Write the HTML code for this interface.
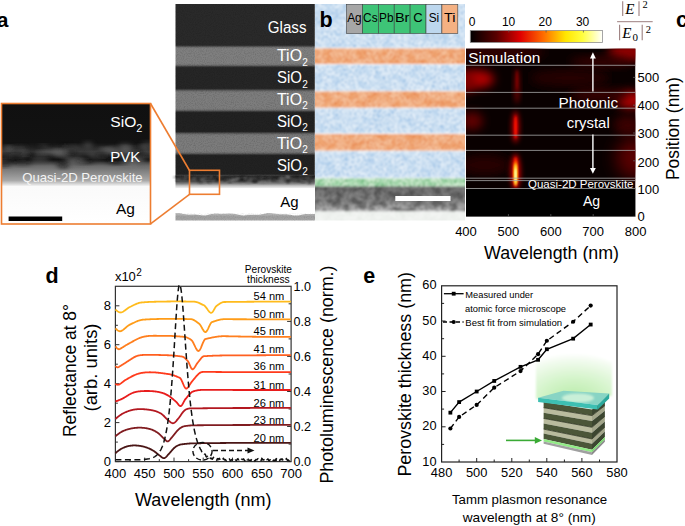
<!DOCTYPE html><html><head><meta charset="utf-8"><style>html,body{margin:0;padding:0;background:#fff;width:685px;height:526px;overflow:hidden}svg{display:block}text{font-family:"Liberation Sans",sans-serif}</style></head><body>
<svg width="685" height="526" viewBox="0 0 685 526">
<defs>
<filter id="nz" x="0" y="0" width="100%" height="100%"><feTurbulence type="fractalNoise" baseFrequency="0.9" numOctaves="2" seed="3" result="t"/><feColorMatrix in="t" type="matrix" values="0 0 0 0 0  0 0 0 0 0  0 0 0 0 0  0 0 0 -2.2 1.35" result="m"/><feComposite in="SourceGraphic" in2="m" operator="in"/></filter>
<filter id="nz2" x="0" y="0" width="100%" height="100%"><feTurbulence type="fractalNoise" baseFrequency="0.5" numOctaves="2" seed="9" result="t"/><feColorMatrix in="t" type="matrix" values="0 0 0 0 0  0 0 0 0 0  0 0 0 0 0  0 0 0 -3 1.9" result="m"/><feComposite in="SourceGraphic" in2="m" operator="in"/></filter>
<filter id="bl1" x="-50%" y="-50%" width="200%" height="200%"><feGaussianBlur stdDeviation="1"/></filter>
<filter id="bl2" x="-50%" y="-50%" width="200%" height="200%"><feGaussianBlur stdDeviation="2.5"/></filter>
<filter id="bl4" x="-50%" y="-50%" width="200%" height="200%"><feGaussianBlur stdDeviation="5"/></filter>
<filter id="bl8" x="-50%" y="-50%" width="200%" height="200%"><feGaussianBlur stdDeviation="8"/></filter>
<linearGradient id="cbar" x1="0" x2="1" y1="0" y2="0"><stop offset="0" stop-color="#000"/><stop offset="0.2" stop-color="#5a0000"/><stop offset="0.38" stop-color="#e00000"/><stop offset="0.55" stop-color="#ff6a00"/><stop offset="0.72" stop-color="#ffe600"/><stop offset="0.85" stop-color="#ffff40"/><stop offset="1" stop-color="#ffffff"/></linearGradient>
<linearGradient id="pnlA" x1="0" x2="0" y1="0" y2="1"><stop offset="0" stop-color="#101010"/><stop offset="0.33" stop-color="#121212"/><stop offset="0.4" stop-color="#3a3a3a"/><stop offset="0.44" stop-color="#202020"/><stop offset="0.47" stop-color="#1a1a1a"/><stop offset="0.52" stop-color="#6a6a6a"/><stop offset="0.56" stop-color="#808080"/><stop offset="0.64" stop-color="#a8a8a8"/><stop offset="0.67" stop-color="#d8d8d8"/><stop offset="0.69" stop-color="#fafafa"/><stop offset="1" stop-color="#ffffff"/></linearGradient>
<clipPath id="clipC"><rect x="466" y="48.5" width="169.5" height="168"/></clipPath>
<clipPath id="clipA"><rect x="1.5" y="103.5" width="149" height="120"/></clipPath>
<radialGradient id="glow" cx="0.5" cy="1" r="0.8"><stop offset="0" stop-color="#a8ec98"/><stop offset="0.5" stop-color="#c8f4bc"/><stop offset="1" stop-color="#ffffff" stop-opacity="0"/></radialGradient>
</defs>
<g clip-path="url(#clipA)">
<rect x="1" y="103" width="150" height="121" fill="url(#pnlA)"/>
<ellipse cx="48.6" cy="147.3" rx="8.6" ry="1.6" fill="#101010" opacity="0.5" filter="url(#bl2)"/>
<ellipse cx="14.1" cy="156.8" rx="10.4" ry="1.9" fill="#5a5a5a" opacity="0.5" filter="url(#bl2)"/>
<ellipse cx="65.0" cy="145.5" rx="4.6" ry="2.3" fill="#101010" opacity="0.5" filter="url(#bl2)"/>
<ellipse cx="18.6" cy="148.9" rx="8.4" ry="3.4" fill="#101010" opacity="0.5" filter="url(#bl2)"/>
<ellipse cx="87.8" cy="145.1" rx="5.5" ry="2.6" fill="#707070" opacity="0.5" filter="url(#bl2)"/>
<ellipse cx="43.4" cy="147.2" rx="4.8" ry="2.1" fill="#606060" opacity="0.5" filter="url(#bl2)"/>
<ellipse cx="27.1" cy="156.8" rx="8.5" ry="2.2" fill="#101010" opacity="0.5" filter="url(#bl2)"/>
<ellipse cx="106.8" cy="156.4" rx="8.3" ry="2.5" fill="#101010" opacity="0.5" filter="url(#bl2)"/>
<ellipse cx="64.1" cy="150.9" rx="8.1" ry="2.4" fill="#0a0a0a" opacity="0.5" filter="url(#bl2)"/>
<ellipse cx="37.3" cy="148.0" rx="9.5" ry="1.7" fill="#0a0a0a" opacity="0.5" filter="url(#bl2)"/>
<ellipse cx="78.8" cy="163.3" rx="9.1" ry="2.1" fill="#5a5a5a" opacity="0.5" filter="url(#bl2)"/>
<ellipse cx="17.7" cy="153.2" rx="9.3" ry="1.8" fill="#808080" opacity="0.5" filter="url(#bl2)"/>
<ellipse cx="63.3" cy="165.2" rx="4.5" ry="2.6" fill="#0a0a0a" opacity="0.5" filter="url(#bl2)"/>
<ellipse cx="51.0" cy="151.7" rx="7.5" ry="3.1" fill="#5a5a5a" opacity="0.5" filter="url(#bl2)"/>
<ellipse cx="126.0" cy="164.8" rx="7.3" ry="2.8" fill="#5a5a5a" opacity="0.5" filter="url(#bl2)"/>
<ellipse cx="109.7" cy="150.8" rx="8.0" ry="2.9" fill="#808080" opacity="0.5" filter="url(#bl2)"/>
<ellipse cx="42.7" cy="152.5" rx="8.7" ry="1.5" fill="#808080" opacity="0.5" filter="url(#bl2)"/>
<ellipse cx="53.3" cy="157.4" rx="7.5" ry="1.9" fill="#0a0a0a" opacity="0.5" filter="url(#bl2)"/>
<ellipse cx="19.4" cy="149.4" rx="6.7" ry="3.2" fill="#5a5a5a" opacity="0.5" filter="url(#bl2)"/>
<ellipse cx="25.0" cy="152.8" rx="5.9" ry="1.8" fill="#808080" opacity="0.5" filter="url(#bl2)"/>
<ellipse cx="129.6" cy="150.1" rx="6.9" ry="2.2" fill="#808080" opacity="0.5" filter="url(#bl2)"/>
<ellipse cx="143.7" cy="147.3" rx="5.2" ry="2.0" fill="#707070" opacity="0.5" filter="url(#bl2)"/>
<ellipse cx="1.8" cy="162.3" rx="5.3" ry="2.1" fill="#707070" opacity="0.5" filter="url(#bl2)"/>
<ellipse cx="62.8" cy="152.1" rx="8.0" ry="3.4" fill="#606060" opacity="0.5" filter="url(#bl2)"/>
<ellipse cx="128.9" cy="164.9" rx="8.6" ry="3.0" fill="#808080" opacity="0.5" filter="url(#bl2)"/>
<ellipse cx="134.9" cy="161.2" rx="10.1" ry="3.1" fill="#808080" opacity="0.5" filter="url(#bl2)"/>
<ellipse cx="59.7" cy="152.7" rx="7.4" ry="2.3" fill="#707070" opacity="0.5" filter="url(#bl2)"/>
<ellipse cx="10.1" cy="148.6" rx="5.1" ry="2.2" fill="#5a5a5a" opacity="0.5" filter="url(#bl2)"/>
<ellipse cx="15.4" cy="156.5" rx="7.8" ry="3.4" fill="#101010" opacity="0.5" filter="url(#bl2)"/>
<ellipse cx="3.8" cy="163.2" rx="8.3" ry="1.8" fill="#0a0a0a" opacity="0.5" filter="url(#bl2)"/>
<ellipse cx="143.3" cy="157.3" rx="7.3" ry="1.7" fill="#808080" opacity="0.5" filter="url(#bl2)"/>
<ellipse cx="149.0" cy="154.3" rx="7.4" ry="1.7" fill="#5a5a5a" opacity="0.5" filter="url(#bl2)"/>
<ellipse cx="112.5" cy="160.3" rx="7.4" ry="2.9" fill="#101010" opacity="0.5" filter="url(#bl2)"/>
<ellipse cx="3.5" cy="164.9" rx="7.7" ry="1.8" fill="#101010" opacity="0.5" filter="url(#bl2)"/>
<ellipse cx="137.1" cy="160.7" rx="6.1" ry="2.8" fill="#5a5a5a" opacity="0.5" filter="url(#bl2)"/>
<ellipse cx="104.4" cy="149.7" rx="6.6" ry="1.8" fill="#707070" opacity="0.5" filter="url(#bl2)"/>
<ellipse cx="79.9" cy="161.1" rx="6.3" ry="1.9" fill="#707070" opacity="0.5" filter="url(#bl2)"/>
<ellipse cx="120.9" cy="162.0" rx="9.2" ry="2.0" fill="#101010" opacity="0.5" filter="url(#bl2)"/>
<ellipse cx="73.9" cy="160.1" rx="10.9" ry="3.1" fill="#808080" opacity="0.5" filter="url(#bl2)"/>
<ellipse cx="38.9" cy="159.2" rx="10.7" ry="2.4" fill="#606060" opacity="0.5" filter="url(#bl2)"/>
<ellipse cx="148.2" cy="165.0" rx="6.6" ry="1.9" fill="#707070" opacity="0.5" filter="url(#bl2)"/>
<ellipse cx="70.5" cy="151.4" rx="7.4" ry="3.5" fill="#101010" opacity="0.5" filter="url(#bl2)"/>
<ellipse cx="126.1" cy="154.5" rx="8.6" ry="3.1" fill="#5a5a5a" opacity="0.5" filter="url(#bl2)"/>
<ellipse cx="125.2" cy="146.6" rx="6.7" ry="2.9" fill="#707070" opacity="0.5" filter="url(#bl2)"/>
<ellipse cx="71.7" cy="147.9" rx="9.5" ry="2.2" fill="#606060" opacity="0.5" filter="url(#bl2)"/>
<ellipse cx="59.4" cy="152.8" rx="10.6" ry="2.9" fill="#707070" opacity="0.5" filter="url(#bl2)"/>
<ellipse cx="149.0" cy="144.6" rx="8.1" ry="2.4" fill="#606060" opacity="0.5" filter="url(#bl2)"/>
<ellipse cx="21.9" cy="162.2" rx="10.9" ry="2.8" fill="#0a0a0a" opacity="0.5" filter="url(#bl2)"/>
<ellipse cx="23.4" cy="156.1" rx="4.1" ry="3.1" fill="#606060" opacity="0.5" filter="url(#bl2)"/>
<ellipse cx="97.5" cy="155.6" rx="10.5" ry="2.4" fill="#707070" opacity="0.5" filter="url(#bl2)"/>
<ellipse cx="123.9" cy="148.6" rx="5.8" ry="2.1" fill="#707070" opacity="0.5" filter="url(#bl2)"/>
<ellipse cx="114.6" cy="151.2" rx="7.8" ry="3.2" fill="#5a5a5a" opacity="0.5" filter="url(#bl2)"/>
<ellipse cx="136.5" cy="151.8" rx="7.2" ry="2.7" fill="#101010" opacity="0.5" filter="url(#bl2)"/>
<ellipse cx="63.1" cy="164.2" rx="7.5" ry="2.6" fill="#101010" opacity="0.5" filter="url(#bl2)"/>
<ellipse cx="76.6" cy="163.2" rx="9.4" ry="2.7" fill="#707070" opacity="0.5" filter="url(#bl2)"/>
<ellipse cx="25.9" cy="154.4" rx="9.1" ry="2.6" fill="#0a0a0a" opacity="0.5" filter="url(#bl2)"/>
<ellipse cx="102.3" cy="155.7" rx="7.4" ry="3.1" fill="#101010" opacity="0.5" filter="url(#bl2)"/>
<ellipse cx="8.5" cy="148.2" rx="4.3" ry="1.7" fill="#808080" opacity="0.5" filter="url(#bl2)"/>
<ellipse cx="84.3" cy="160.7" rx="10.4" ry="2.4" fill="#101010" opacity="0.5" filter="url(#bl2)"/>
<ellipse cx="146.0" cy="157.3" rx="5.4" ry="2.1" fill="#101010" opacity="0.5" filter="url(#bl2)"/>
</g>
<rect x="1.5" y="103.5" width="149" height="120.5" fill="none" stroke="#ED7D31" stroke-width="1.6"/>
<text x="110.3" y="127.2" font-size="14.5" fill="#fff" text-anchor="start" font-weight="normal" textLength="26" lengthAdjust="spacingAndGlyphs" >SiO</text>
<text x="136.2" y="132.3" font-size="11" fill="#fff" text-anchor="start" font-weight="normal" >2</text>
<text x="110.3" y="161.8" font-size="14.5" fill="#fff" text-anchor="start" font-weight="normal" textLength="30" lengthAdjust="spacingAndGlyphs" >PVK</text>
<text x="22.2" y="182.3" font-size="13" fill="#f4f4f4" text-anchor="start" font-weight="normal" textLength="120.5" lengthAdjust="spacingAndGlyphs" >Quasi-2D Perovskite</text>
<text x="116" y="214.2" font-size="15.5" fill="#000" text-anchor="start" font-weight="normal" >Ag</text>
<rect x="8.6" y="216.5" width="53.6" height="4.5" fill="#000"/>
<clipPath id="clipS"><rect x="175.5" y="4" width="139.3" height="216.5"/></clipPath>
<filter id="blS" x="-5%" y="-5%" width="110%" height="110%"><feGaussianBlur stdDeviation="0.2 1.2"/></filter>
<g clip-path="url(#clipS)"><g filter="url(#blS)">
<rect x="172.5" y="-5" width="145.3" height="52.3" fill="#2b2b2b"/>
<rect x="172.5" y="47.3" width="145.3" height="18.0" fill="#7f7f7f"/>
<rect x="172.5" y="65.3" width="145.3" height="25.5" fill="#262626"/>
<rect x="172.5" y="90.8" width="145.3" height="19.5" fill="#7d7d7d"/>
<rect x="172.5" y="110.3" width="145.3" height="23.500000000000014" fill="#242424"/>
<rect x="172.5" y="133.8" width="145.3" height="19.399999999999977" fill="#7b7b7b"/>
<rect x="172.5" y="153.2" width="145.3" height="23.30000000000001" fill="#202020"/>
</g></g>
<linearGradient id="pvkG" x1="0" x2="0" y1="0" y2="1"><stop offset="0" stop-color="#2a2a2a"/><stop offset="0.45" stop-color="#484848"/><stop offset="0.62" stop-color="#808080"/><stop offset="0.8" stop-color="#c8c8c8"/><stop offset="1" stop-color="#f8f8f8"/></linearGradient>
<rect x="175.5" y="175.5" width="139.3" height="13" fill="url(#pvkG)"/>
<ellipse cx="249.8" cy="179.6" rx="2.8" ry="1.2" fill="#6a6a6a" opacity="0.55" filter="url(#bl1)"/>
<ellipse cx="306.7" cy="178.2" rx="3.1" ry="0.7" fill="#6a6a6a" opacity="0.55" filter="url(#bl1)"/>
<ellipse cx="192.4" cy="179.4" rx="2.7" ry="0.9" fill="#0a0a0a" opacity="0.55" filter="url(#bl1)"/>
<ellipse cx="205.1" cy="178.5" rx="3.3" ry="0.7" fill="#0a0a0a" opacity="0.55" filter="url(#bl1)"/>
<ellipse cx="275.3" cy="180.8" rx="1.8" ry="0.7" fill="#6a6a6a" opacity="0.55" filter="url(#bl1)"/>
<ellipse cx="240.7" cy="181.4" rx="2.1" ry="0.9" fill="#0a0a0a" opacity="0.55" filter="url(#bl1)"/>
<ellipse cx="313.4" cy="181.9" rx="2.8" ry="1.3" fill="#6a6a6a" opacity="0.55" filter="url(#bl1)"/>
<ellipse cx="231.8" cy="179.2" rx="1.9" ry="1.1" fill="#1a1a1a" opacity="0.55" filter="url(#bl1)"/>
<ellipse cx="178.2" cy="180.1" rx="2.8" ry="0.9" fill="#909090" opacity="0.55" filter="url(#bl1)"/>
<ellipse cx="247.6" cy="178.4" rx="1.5" ry="1.2" fill="#0a0a0a" opacity="0.55" filter="url(#bl1)"/>
<ellipse cx="207.3" cy="182.2" rx="1.8" ry="0.6" fill="#0a0a0a" opacity="0.55" filter="url(#bl1)"/>
<ellipse cx="284.0" cy="178.3" rx="3.1" ry="1.2" fill="#6a6a6a" opacity="0.55" filter="url(#bl1)"/>
<ellipse cx="269.7" cy="182.6" rx="1.5" ry="1.2" fill="#909090" opacity="0.55" filter="url(#bl1)"/>
<ellipse cx="255.0" cy="181.1" rx="1.8" ry="1.2" fill="#0a0a0a" opacity="0.55" filter="url(#bl1)"/>
<ellipse cx="201.0" cy="182.3" rx="3.4" ry="1.0" fill="#1a1a1a" opacity="0.55" filter="url(#bl1)"/>
<ellipse cx="287.2" cy="177.0" rx="1.4" ry="1.2" fill="#6a6a6a" opacity="0.55" filter="url(#bl1)"/>
<ellipse cx="238.7" cy="178.7" rx="3.3" ry="0.8" fill="#909090" opacity="0.55" filter="url(#bl1)"/>
<ellipse cx="193.5" cy="179.9" rx="3.4" ry="1.3" fill="#6a6a6a" opacity="0.55" filter="url(#bl1)"/>
<ellipse cx="212.0" cy="177.7" rx="2.6" ry="1.0" fill="#1a1a1a" opacity="0.55" filter="url(#bl1)"/>
<ellipse cx="204.2" cy="179.4" rx="1.8" ry="1.2" fill="#6a6a6a" opacity="0.55" filter="url(#bl1)"/>
<ellipse cx="314.0" cy="176.7" rx="2.9" ry="1.0" fill="#0a0a0a" opacity="0.55" filter="url(#bl1)"/>
<ellipse cx="201.9" cy="179.6" rx="1.4" ry="1.2" fill="#909090" opacity="0.55" filter="url(#bl1)"/>
<ellipse cx="235.7" cy="179.7" rx="3.4" ry="0.8" fill="#909090" opacity="0.55" filter="url(#bl1)"/>
<ellipse cx="205.5" cy="178.0" rx="3.1" ry="1.1" fill="#6a6a6a" opacity="0.55" filter="url(#bl1)"/>
<ellipse cx="264.1" cy="179.1" rx="3.5" ry="1.2" fill="#1a1a1a" opacity="0.55" filter="url(#bl1)"/>
<ellipse cx="177.5" cy="180.6" rx="2.2" ry="0.6" fill="#1a1a1a" opacity="0.55" filter="url(#bl1)"/>
<ellipse cx="268.2" cy="179.0" rx="2.6" ry="1.1" fill="#1a1a1a" opacity="0.55" filter="url(#bl1)"/>
<ellipse cx="181.8" cy="177.7" rx="2.2" ry="0.8" fill="#1a1a1a" opacity="0.55" filter="url(#bl1)"/>
<ellipse cx="309.5" cy="182.8" rx="1.8" ry="1.3" fill="#1a1a1a" opacity="0.55" filter="url(#bl1)"/>
<ellipse cx="218.6" cy="178.8" rx="2.0" ry="0.7" fill="#0a0a0a" opacity="0.55" filter="url(#bl1)"/>
<ellipse cx="214.4" cy="180.8" rx="2.4" ry="0.6" fill="#6a6a6a" opacity="0.55" filter="url(#bl1)"/>
<ellipse cx="212.3" cy="177.1" rx="2.5" ry="0.9" fill="#909090" opacity="0.55" filter="url(#bl1)"/>
<ellipse cx="217.2" cy="180.6" rx="2.5" ry="1.0" fill="#0a0a0a" opacity="0.55" filter="url(#bl1)"/>
<ellipse cx="280.1" cy="180.8" rx="3.0" ry="1.1" fill="#909090" opacity="0.55" filter="url(#bl1)"/>
<ellipse cx="244.3" cy="178.3" rx="1.3" ry="1.2" fill="#6a6a6a" opacity="0.55" filter="url(#bl1)"/>
<ellipse cx="299.7" cy="180.6" rx="3.3" ry="1.1" fill="#6a6a6a" opacity="0.55" filter="url(#bl1)"/>
<ellipse cx="254.7" cy="181.8" rx="3.1" ry="1.0" fill="#0a0a0a" opacity="0.55" filter="url(#bl1)"/>
<ellipse cx="299.9" cy="180.9" rx="1.4" ry="0.6" fill="#6a6a6a" opacity="0.55" filter="url(#bl1)"/>
<ellipse cx="264.3" cy="182.7" rx="3.1" ry="1.0" fill="#909090" opacity="0.55" filter="url(#bl1)"/>
<ellipse cx="262.9" cy="180.6" rx="2.3" ry="0.6" fill="#6a6a6a" opacity="0.55" filter="url(#bl1)"/>
<ellipse cx="286.6" cy="181.4" rx="2.7" ry="0.6" fill="#0a0a0a" opacity="0.55" filter="url(#bl1)"/>
<ellipse cx="278.1" cy="178.1" rx="3.1" ry="0.8" fill="#0a0a0a" opacity="0.55" filter="url(#bl1)"/>
<ellipse cx="280.9" cy="178.0" rx="2.3" ry="0.9" fill="#909090" opacity="0.55" filter="url(#bl1)"/>
<ellipse cx="242.2" cy="180.9" rx="2.6" ry="1.0" fill="#0a0a0a" opacity="0.55" filter="url(#bl1)"/>
<ellipse cx="186.3" cy="177.5" rx="2.7" ry="1.1" fill="#1a1a1a" opacity="0.55" filter="url(#bl1)"/>
<ellipse cx="262.0" cy="177.4" rx="1.3" ry="0.8" fill="#909090" opacity="0.55" filter="url(#bl1)"/>
<ellipse cx="269.1" cy="181.0" rx="1.9" ry="1.0" fill="#909090" opacity="0.55" filter="url(#bl1)"/>
<ellipse cx="240.2" cy="179.5" rx="3.5" ry="1.0" fill="#0a0a0a" opacity="0.55" filter="url(#bl1)"/>
<ellipse cx="218.9" cy="177.1" rx="1.2" ry="0.9" fill="#909090" opacity="0.55" filter="url(#bl1)"/>
<ellipse cx="289.7" cy="182.8" rx="3.5" ry="0.9" fill="#909090" opacity="0.55" filter="url(#bl1)"/>
<ellipse cx="303.2" cy="182.5" rx="2.5" ry="0.7" fill="#0a0a0a" opacity="0.55" filter="url(#bl1)"/>
<ellipse cx="248.5" cy="182.7" rx="2.6" ry="1.0" fill="#6a6a6a" opacity="0.55" filter="url(#bl1)"/>
<ellipse cx="214.4" cy="177.2" rx="1.7" ry="1.2" fill="#1a1a1a" opacity="0.55" filter="url(#bl1)"/>
<ellipse cx="243.2" cy="176.7" rx="3.4" ry="1.1" fill="#0a0a0a" opacity="0.55" filter="url(#bl1)"/>
<ellipse cx="232.0" cy="181.2" rx="2.0" ry="0.8" fill="#909090" opacity="0.55" filter="url(#bl1)"/>
<ellipse cx="292.5" cy="176.5" rx="3.1" ry="0.7" fill="#1a1a1a" opacity="0.55" filter="url(#bl1)"/>
<ellipse cx="304.5" cy="181.1" rx="1.8" ry="0.6" fill="#1a1a1a" opacity="0.55" filter="url(#bl1)"/>
<ellipse cx="229.8" cy="182.2" rx="2.0" ry="0.9" fill="#0a0a0a" opacity="0.55" filter="url(#bl1)"/>
<ellipse cx="213.8" cy="176.8" rx="1.3" ry="1.1" fill="#0a0a0a" opacity="0.55" filter="url(#bl1)"/>
<ellipse cx="264.0" cy="177.5" rx="2.2" ry="0.8" fill="#1a1a1a" opacity="0.55" filter="url(#bl1)"/>
<ellipse cx="283.2" cy="181.6" rx="3.2" ry="1.2" fill="#909090" opacity="0.55" filter="url(#bl1)"/>
<ellipse cx="263.4" cy="182.4" rx="2.9" ry="0.6" fill="#6a6a6a" opacity="0.55" filter="url(#bl1)"/>
<ellipse cx="277.5" cy="179.4" rx="2.7" ry="0.8" fill="#6a6a6a" opacity="0.55" filter="url(#bl1)"/>
<ellipse cx="182.3" cy="182.5" rx="1.6" ry="0.9" fill="#6a6a6a" opacity="0.55" filter="url(#bl1)"/>
<ellipse cx="214.7" cy="178.2" rx="2.1" ry="0.8" fill="#1a1a1a" opacity="0.55" filter="url(#bl1)"/>
<ellipse cx="242.8" cy="180.8" rx="1.6" ry="0.7" fill="#0a0a0a" opacity="0.55" filter="url(#bl1)"/>
<ellipse cx="204.5" cy="182.4" rx="2.5" ry="0.9" fill="#909090" opacity="0.55" filter="url(#bl1)"/>
<ellipse cx="221.9" cy="181.4" rx="1.5" ry="0.7" fill="#909090" opacity="0.55" filter="url(#bl1)"/>
<ellipse cx="188.1" cy="178.7" rx="1.9" ry="0.9" fill="#0a0a0a" opacity="0.55" filter="url(#bl1)"/>
<ellipse cx="288.2" cy="177.8" rx="2.9" ry="0.9" fill="#0a0a0a" opacity="0.55" filter="url(#bl1)"/>
<ellipse cx="233.2" cy="179.9" rx="1.8" ry="1.1" fill="#909090" opacity="0.55" filter="url(#bl1)"/>
<ellipse cx="244.9" cy="180.2" rx="1.5" ry="1.0" fill="#1a1a1a" opacity="0.55" filter="url(#bl1)"/>
<ellipse cx="263.2" cy="182.1" rx="1.4" ry="1.2" fill="#6a6a6a" opacity="0.55" filter="url(#bl1)"/>
<ellipse cx="229.1" cy="180.7" rx="3.4" ry="1.2" fill="#909090" opacity="0.55" filter="url(#bl1)"/>
<ellipse cx="297.1" cy="176.6" rx="2.2" ry="1.1" fill="#0a0a0a" opacity="0.55" filter="url(#bl1)"/>
<ellipse cx="287.5" cy="182.8" rx="1.2" ry="0.9" fill="#909090" opacity="0.55" filter="url(#bl1)"/>
<ellipse cx="304.6" cy="181.9" rx="3.4" ry="0.8" fill="#909090" opacity="0.55" filter="url(#bl1)"/>
<ellipse cx="190.7" cy="177.5" rx="3.4" ry="1.1" fill="#0a0a0a" opacity="0.55" filter="url(#bl1)"/>
<ellipse cx="265.7" cy="181.5" rx="1.4" ry="1.1" fill="#909090" opacity="0.55" filter="url(#bl1)"/>
<ellipse cx="175.7" cy="177.3" rx="2.7" ry="0.8" fill="#0a0a0a" opacity="0.55" filter="url(#bl1)"/>
<ellipse cx="193.3" cy="178.1" rx="2.8" ry="0.7" fill="#909090" opacity="0.55" filter="url(#bl1)"/>
<ellipse cx="185.3" cy="179.9" rx="2.1" ry="0.8" fill="#6a6a6a" opacity="0.55" filter="url(#bl1)"/>
<ellipse cx="259.2" cy="176.6" rx="3.5" ry="0.8" fill="#1a1a1a" opacity="0.55" filter="url(#bl1)"/>
<ellipse cx="219.6" cy="182.0" rx="2.3" ry="0.8" fill="#6a6a6a" opacity="0.55" filter="url(#bl1)"/>
<ellipse cx="209.9" cy="182.7" rx="1.3" ry="0.7" fill="#1a1a1a" opacity="0.55" filter="url(#bl1)"/>
<ellipse cx="298.8" cy="180.7" rx="1.8" ry="1.1" fill="#0a0a0a" opacity="0.55" filter="url(#bl1)"/>
<ellipse cx="304.4" cy="178.0" rx="2.8" ry="1.1" fill="#0a0a0a" opacity="0.55" filter="url(#bl1)"/>
<ellipse cx="226.0" cy="179.1" rx="3.0" ry="1.1" fill="#0a0a0a" opacity="0.55" filter="url(#bl1)"/>
<ellipse cx="245.8" cy="177.8" rx="1.9" ry="1.2" fill="#6a6a6a" opacity="0.55" filter="url(#bl1)"/>
<ellipse cx="207.7" cy="177.9" rx="1.5" ry="1.0" fill="#1a1a1a" opacity="0.55" filter="url(#bl1)"/>
<ellipse cx="260.5" cy="182.3" rx="2.2" ry="1.1" fill="#909090" opacity="0.55" filter="url(#bl1)"/>
<ellipse cx="307.7" cy="177.5" rx="1.3" ry="0.6" fill="#909090" opacity="0.55" filter="url(#bl1)"/>
<ellipse cx="258.5" cy="179.2" rx="1.6" ry="0.9" fill="#0a0a0a" opacity="0.55" filter="url(#bl1)"/>
<ellipse cx="274.7" cy="178.5" rx="3.5" ry="1.3" fill="#0a0a0a" opacity="0.55" filter="url(#bl1)"/>
<ellipse cx="221.4" cy="177.7" rx="1.3" ry="1.1" fill="#909090" opacity="0.55" filter="url(#bl1)"/>
<ellipse cx="228.2" cy="178.9" rx="2.2" ry="0.7" fill="#1a1a1a" opacity="0.55" filter="url(#bl1)"/>
<ellipse cx="186.4" cy="177.0" rx="3.4" ry="0.7" fill="#909090" opacity="0.55" filter="url(#bl1)"/>
<ellipse cx="309.8" cy="177.8" rx="3.0" ry="0.8" fill="#1a1a1a" opacity="0.55" filter="url(#bl1)"/>
<ellipse cx="287.5" cy="177.1" rx="1.7" ry="1.0" fill="#909090" opacity="0.55" filter="url(#bl1)"/>
<ellipse cx="237.7" cy="178.6" rx="1.3" ry="0.9" fill="#909090" opacity="0.55" filter="url(#bl1)"/>
<ellipse cx="288.6" cy="181.5" rx="2.1" ry="0.9" fill="#0a0a0a" opacity="0.55" filter="url(#bl1)"/>
<ellipse cx="287.4" cy="176.9" rx="2.9" ry="1.2" fill="#6a6a6a" opacity="0.55" filter="url(#bl1)"/>
<ellipse cx="222.7" cy="178.3" rx="1.8" ry="1.1" fill="#0a0a0a" opacity="0.55" filter="url(#bl1)"/>
<ellipse cx="219.6" cy="178.3" rx="2.9" ry="1.0" fill="#0a0a0a" opacity="0.55" filter="url(#bl1)"/>
<ellipse cx="287.7" cy="182.7" rx="1.3" ry="0.8" fill="#0a0a0a" opacity="0.55" filter="url(#bl1)"/>
<ellipse cx="241.7" cy="182.7" rx="3.0" ry="1.2" fill="#909090" opacity="0.55" filter="url(#bl1)"/>
<ellipse cx="289.0" cy="177.4" rx="1.6" ry="1.2" fill="#909090" opacity="0.55" filter="url(#bl1)"/>
<ellipse cx="278.4" cy="181.8" rx="2.6" ry="0.8" fill="#6a6a6a" opacity="0.55" filter="url(#bl1)"/>
<ellipse cx="220.0" cy="178.9" rx="2.4" ry="0.9" fill="#0a0a0a" opacity="0.55" filter="url(#bl1)"/>
<ellipse cx="197.8" cy="179.2" rx="2.3" ry="1.0" fill="#0a0a0a" opacity="0.55" filter="url(#bl1)"/>
<rect x="175.5" y="188.5" width="139.3" height="25" fill="#ffffff"/>
<linearGradient id="agB" x1="0" x2="0" y1="0" y2="1"><stop offset="0" stop-color="#c0c0c0"/><stop offset="0.5" stop-color="#a0a0a0"/><stop offset="1" stop-color="#a8a8a8"/></linearGradient>
<path d="M175.5,214.5 L175.5,213.1 L177.5,213.0 L179.5,213.1 L181.5,213.5 L183.5,213.9 L185.5,214.3 L187.5,214.6 L189.5,214.7 L191.5,214.6 L193.5,214.6 L195.5,214.6 L197.5,214.8 L199.5,215.1 L201.5,215.3 L203.5,215.5 L205.5,215.4 L207.5,215.1 L209.5,214.6 L211.5,214.1 L213.5,213.7 L215.5,213.5 L217.5,213.5 L219.5,213.7 L221.5,213.8 L223.5,213.8 L225.5,213.7 L227.5,213.5 L229.5,213.4 L231.5,213.4 L233.5,213.7 L235.5,214.1 L237.5,214.6 L239.5,215.1 L241.5,215.3 L243.5,215.4 L245.5,215.2 L247.5,215.0 L249.5,214.8 L251.5,214.7 L253.5,214.7 L255.5,214.8 L257.5,214.8 L259.5,214.7 L261.5,214.3 L263.5,213.9 L265.5,213.5 L267.5,213.1 L269.5,213.0 L271.5,213.2 L273.5,213.5 L275.5,213.8 L277.5,214.1 L279.5,214.3 L281.5,214.3 L283.5,214.2 L285.5,214.3 L287.5,214.4 L289.5,214.7 L291.5,215.1 L293.5,215.4 L295.5,215.6 L297.5,215.5 L299.5,215.2 L301.5,214.7 L303.5,214.3 L305.5,214.0 L307.5,213.9 L309.5,213.9 L311.5,214.0 L313.5,213.9 L315.5,213.8 L314.8,220.5 L175.5,220.5 Z" fill="url(#agB)"/>
<rect x="175.5" y="213" width="139.3" height="8" fill="#000" opacity="0.08" filter="url(#nz)"/>
<rect x="175.5" y="4" width="139.3" height="173" fill="#000" opacity="0.12" filter="url(#nz)"/>
<rect x="189.5" y="170.3" width="30" height="24" fill="none" stroke="#ED7D31" stroke-width="1.6"/>
<polyline points="150.5,103.5 189.5,170.5" stroke="#ED7D31" stroke-width="1.6" fill="none"/>
<polyline points="150.5,223.8 189.5,194.3" stroke="#ED7D31" stroke-width="1.6" fill="none"/>
<text x="306.5" y="32.6" font-size="16" fill="#fff" text-anchor="end" font-weight="normal" textLength="38.7" lengthAdjust="spacingAndGlyphs" >Glass</text>
<text x="302" y="61.3" font-size="16.5" fill="#fff" text-anchor="end" font-weight="normal" textLength="25" lengthAdjust="spacingAndGlyphs" >TiO</text>
<text x="302.3" y="65.6" font-size="10" fill="#fff" text-anchor="start" font-weight="normal" >2</text>
<text x="302" y="83.19999999999999" font-size="16.5" fill="#fff" text-anchor="end" font-weight="normal" textLength="25" lengthAdjust="spacingAndGlyphs" >SiO</text>
<text x="302.3" y="87.49999999999999" font-size="10" fill="#fff" text-anchor="start" font-weight="normal" >2</text>
<text x="302" y="105.1" font-size="16.5" fill="#fff" text-anchor="end" font-weight="normal" textLength="25" lengthAdjust="spacingAndGlyphs" >TiO</text>
<text x="302.3" y="109.39999999999999" font-size="10" fill="#fff" text-anchor="start" font-weight="normal" >2</text>
<text x="302" y="126.99999999999999" font-size="16.5" fill="#fff" text-anchor="end" font-weight="normal" textLength="25" lengthAdjust="spacingAndGlyphs" >SiO</text>
<text x="302.3" y="131.29999999999998" font-size="10" fill="#fff" text-anchor="start" font-weight="normal" >2</text>
<text x="302" y="148.89999999999998" font-size="16.5" fill="#fff" text-anchor="end" font-weight="normal" textLength="25" lengthAdjust="spacingAndGlyphs" >TiO</text>
<text x="302.3" y="153.2" font-size="10" fill="#fff" text-anchor="start" font-weight="normal" >2</text>
<text x="302" y="170.8" font-size="16.5" fill="#fff" text-anchor="end" font-weight="normal" textLength="25" lengthAdjust="spacingAndGlyphs" >SiO</text>
<text x="302.3" y="175.10000000000002" font-size="10" fill="#fff" text-anchor="start" font-weight="normal" >2</text>
<text x="298.5" y="207" font-size="15" fill="#000" text-anchor="end" font-weight="normal" >Ag</text>
<clipPath id="clipE"><rect x="315" y="4" width="150" height="216.5"/></clipPath>
<filter id="softE" x="0" y="0" width="100%" height="100%"><feGaussianBlur stdDeviation="0.9"/></filter>
<filter id="nzc" x="0" y="0" width="100%" height="100%"><feTurbulence type="fractalNoise" baseFrequency="0.55" numOctaves="2" seed="5" result="t"/><feColorMatrix in="t" type="matrix" values="0 0 0 0 0  0 0 0 0 0  0 0 0 0 0  0 0 0 -3.5 1.85" result="m"/><feComposite in="SourceGraphic" in2="m" operator="in"/></filter>
<filter id="nzk" x="0" y="0" width="100%" height="100%"><feTurbulence type="fractalNoise" baseFrequency="0.12" numOctaves="2" seed="11" result="t"/><feColorMatrix in="t" type="matrix" values="0 0 0 0 0  0 0 0 0 0  0 0 0 0 0  0 0 0 -4 2.3" result="m"/><feComposite in="SourceGraphic" in2="m" operator="in"/></filter>
<linearGradient id="gyG" x1="0" x2="0" y1="0" y2="1"><stop offset="0" stop-color="#7a7a7a"/><stop offset="0.6" stop-color="#909090"/><stop offset="1" stop-color="#c8c8c8"/></linearGradient>
<g clip-path="url(#clipE)"><g filter="url(#softE)">
<rect x="312" y="0" width="156" height="224" fill="#f8fafc"/>
<rect x="312" y="0" width="156" height="47.5" fill="#e6f0f9"/>
<rect x="312" y="0" width="156" height="47.5" fill="#8fbce6" opacity="0.25" filter="url(#nzk)"/>
<rect x="312" y="0" width="156" height="47.5" fill="#3d85c8" opacity="0.6" filter="url(#nzc)"/>
<rect x="312" y="48.5" width="156" height="15.5" fill="#f6c29c"/>
<rect x="312" y="48.5" width="156" height="15.5" fill="#ee9558" opacity="0.55" filter="url(#nzk)"/>
<rect x="312" y="48.5" width="156" height="15.5" fill="#d85818" opacity="0.7" filter="url(#nzc)"/>
<rect x="312" y="65" width="156" height="25.5" fill="#e6f0f9"/>
<rect x="312" y="65" width="156" height="25.5" fill="#8fbce6" opacity="0.25" filter="url(#nzk)"/>
<rect x="312" y="65" width="156" height="25.5" fill="#3d85c8" opacity="0.6" filter="url(#nzc)"/>
<rect x="312" y="91.5" width="156" height="16.0" fill="#f6c29c"/>
<rect x="312" y="91.5" width="156" height="16.0" fill="#ee9558" opacity="0.55" filter="url(#nzk)"/>
<rect x="312" y="91.5" width="156" height="16.0" fill="#d85818" opacity="0.7" filter="url(#nzc)"/>
<rect x="312" y="108.5" width="156" height="24.5" fill="#e6f0f9"/>
<rect x="312" y="108.5" width="156" height="24.5" fill="#8fbce6" opacity="0.25" filter="url(#nzk)"/>
<rect x="312" y="108.5" width="156" height="24.5" fill="#3d85c8" opacity="0.6" filter="url(#nzc)"/>
<rect x="312" y="134" width="156" height="16.5" fill="#f6c29c"/>
<rect x="312" y="134" width="156" height="16.5" fill="#ee9558" opacity="0.55" filter="url(#nzk)"/>
<rect x="312" y="134" width="156" height="16.5" fill="#d85818" opacity="0.7" filter="url(#nzc)"/>
<rect x="312" y="151.5" width="156" height="26.0" fill="#e6f0f9"/>
<rect x="312" y="151.5" width="156" height="26.0" fill="#8fbce6" opacity="0.25" filter="url(#nzk)"/>
<rect x="312" y="151.5" width="156" height="26.0" fill="#3d85c8" opacity="0.6" filter="url(#nzc)"/>
<rect x="312" y="178.5" width="156" height="8.0" fill="#d4eed4"/>
<rect x="312" y="178.5" width="156" height="8.0" fill="#7cc88c" opacity="0.4" filter="url(#nzk)"/>
<rect x="312" y="178.5" width="156" height="8.0" fill="#158a30" opacity="0.85" filter="url(#nzc)"/>
<rect x="312" y="186.5" width="156" height="25.0" fill="url(#gyG)"/>
<rect x="312" y="186.5" width="156" height="25.0" fill="#404040" opacity="0.55" filter="url(#nzk)"/>
<rect x="312" y="186.5" width="156" height="25.0" fill="#222222" opacity="0.65" filter="url(#nzc)"/>
<rect x="312" y="211.5" width="156" height="12.5" fill="#f4f6f4"/>
<rect x="312" y="211.5" width="156" height="12.5" fill="#e0e6e0" opacity="0.3" filter="url(#nzk)"/>
<rect x="312" y="211.5" width="156" height="12.5" fill="#b8c4b8" opacity="0.2" filter="url(#nzc)"/>
</g></g>
<rect x="395.3" y="196" width="55.2" height="5" fill="#fff"/>
<rect x="346.50" y="4.5" width="15.90" height="29" fill="#a6a6a6" stroke="#404040" stroke-width="0.6"/>
<text x="354.45" y="22.3" font-size="13" fill="#000" text-anchor="middle" font-weight="normal" textLength="14.5" lengthAdjust="spacingAndGlyphs" >Ag</text>
<rect x="362.40" y="4.5" width="15.90" height="29" fill="#3ec477" stroke="#404040" stroke-width="0.6"/>
<text x="370.35" y="22.3" font-size="13" fill="#000" text-anchor="middle" font-weight="normal" textLength="14.5" lengthAdjust="spacingAndGlyphs" >Cs</text>
<rect x="378.30" y="4.5" width="15.90" height="29" fill="#3ec477" stroke="#404040" stroke-width="0.6"/>
<text x="386.25" y="22.3" font-size="13" fill="#000" text-anchor="middle" font-weight="normal" textLength="14.5" lengthAdjust="spacingAndGlyphs" >Pb</text>
<rect x="394.20" y="4.5" width="15.90" height="29" fill="#3ec477" stroke="#404040" stroke-width="0.6"/>
<text x="402.15" y="22.3" font-size="13" fill="#000" text-anchor="middle" font-weight="normal" textLength="14.5" lengthAdjust="spacingAndGlyphs" >Br</text>
<rect x="410.10" y="4.5" width="15.90" height="29" fill="#3ec477" stroke="#404040" stroke-width="0.6"/>
<text x="418.05" y="22.3" font-size="13" fill="#000" text-anchor="middle" font-weight="normal" >C</text>
<rect x="426.00" y="4.5" width="15.90" height="29" fill="#bdd7ee" stroke="#404040" stroke-width="0.6"/>
<text x="433.95" y="22.3" font-size="13" fill="#000" text-anchor="middle" font-weight="normal" textLength="10.5" lengthAdjust="spacingAndGlyphs" >Si</text>
<rect x="441.90" y="4.5" width="15.90" height="29" fill="#f4b183" stroke="#404040" stroke-width="0.6"/>
<text x="449.85" y="22.3" font-size="13" fill="#000" text-anchor="middle" font-weight="normal" textLength="11.5" lengthAdjust="spacingAndGlyphs" >Ti</text>
<rect x="470.3" y="30.4" width="132.2" height="12.1" fill="url(#cbar)" stroke="#909090" stroke-width="0.8"/>
<line x1="508.8" y1="30.4" x2="508.8" y2="32.5" stroke="#555" stroke-width="0.7"/>
<line x1="546.1" y1="30.4" x2="546.1" y2="32.5" stroke="#555" stroke-width="0.7"/>
<line x1="583.4" y1="30.4" x2="583.4" y2="32.5" stroke="#555" stroke-width="0.7"/>
<text x="472" y="26.2" font-size="12" fill="#000" text-anchor="middle" font-weight="normal" >0</text>
<text x="508.6" y="26.2" font-size="12" fill="#000" text-anchor="middle" font-weight="normal" >10</text>
<text x="545.3" y="26.2" font-size="12" fill="#000" text-anchor="middle" font-weight="normal" >20</text>
<text x="582.6" y="26.2" font-size="12" fill="#000" text-anchor="middle" font-weight="normal" >30</text>
<line x1="617.1" y1="21.7" x2="652.7" y2="21.7" stroke="#9d7f7f" stroke-width="1"/>
<line x1="622.7" y1="1.2" x2="622.7" y2="16" stroke="#9d7f7f" stroke-width="1.1"/>
<line x1="639" y1="1.2" x2="639" y2="16" stroke="#9d7f7f" stroke-width="1.1"/>
<text x="625.3" y="13.8" font-size="15" font-style="italic" fill="#000" style="font-family:'Liberation Serif',serif">E</text>
<text x="642.5" y="8.3" font-size="10.5" fill="#000" style="font-family:'Liberation Serif',serif">2</text>
<line x1="619.6" y1="24.8" x2="619.6" y2="40.3" stroke="#9d7f7f" stroke-width="1.1"/>
<line x1="642.2" y1="24.8" x2="642.2" y2="40.3" stroke="#9d7f7f" stroke-width="1.1"/>
<text x="622.3" y="37.8" font-size="15" font-style="italic" fill="#000" style="font-family:'Liberation Serif',serif">E</text>
<text x="632.6" y="41.2" font-size="11" fill="#000" style="font-family:'Liberation Serif',serif">0</text>
<text x="645.8" y="33.1" font-size="10.5" fill="#000" style="font-family:'Liberation Serif',serif">2</text>
<g clip-path="url(#clipC)">
<rect x="466" y="48.5" width="169.5" height="168.0" fill="#090000"/>
<ellipse cx="500" cy="52" rx="45" ry="7" fill="#300000" opacity="1" filter="url(#bl4)"/>
<ellipse cx="630" cy="52" rx="22" ry="9" fill="#900000" opacity="1" filter="url(#bl4)"/>
<ellipse cx="600" cy="62" rx="30" ry="5" fill="#3a0000" opacity="1" filter="url(#bl4)"/>
<ellipse cx="478" cy="79" rx="16" ry="9" fill="#b00000" opacity="1" filter="url(#bl4)"/>
<ellipse cx="467" cy="82" rx="8" ry="11" fill="#800000" opacity="1" filter="url(#bl4)"/>
<ellipse cx="517" cy="86" rx="3" ry="18" fill="#600000" opacity="1" filter="url(#bl2)"/>
<ellipse cx="517" cy="80" rx="1.2" ry="10" fill="#900000" opacity="0.8" filter="url(#bl1)"/>
<ellipse cx="570" cy="78" rx="40" ry="8" fill="#280000" opacity="1" filter="url(#bl4)"/>
<ellipse cx="631" cy="100" rx="14" ry="9" fill="#b00000" opacity="1" filter="url(#bl4)"/>
<ellipse cx="600" cy="95" rx="30" ry="6" fill="#3a0000" opacity="1" filter="url(#bl4)"/>
<ellipse cx="472" cy="121" rx="11" ry="9" fill="#600000" opacity="1" filter="url(#bl4)"/>
<ellipse cx="515.6" cy="127" rx="4" ry="16" fill="#a00000" opacity="1" filter="url(#bl2)"/>
<ellipse cx="515.6" cy="127" rx="1.6" ry="12" fill="#ff1000" opacity="1" filter="url(#bl1)"/>
<ellipse cx="628" cy="125" rx="14" ry="10" fill="#3a0000" opacity="1" filter="url(#bl4)"/>
<ellipse cx="634" cy="158" rx="18" ry="20" fill="#5a0000" opacity="1" filter="url(#bl8)"/>
<ellipse cx="485" cy="165" rx="25" ry="10" fill="#250000" opacity="1" filter="url(#bl4)"/>
<ellipse cx="515.6" cy="172" rx="5" ry="18" fill="#c00000" opacity="1" filter="url(#bl2)"/>
<ellipse cx="515.6" cy="172" rx="2.4" ry="15" fill="#ff2000" opacity="1" filter="url(#bl1)"/>
<ellipse cx="515.6" cy="173" rx="1.7" ry="12" fill="#ffa000" opacity="1" filter="url(#bl1)"/>
<ellipse cx="515.6" cy="175" rx="1.4" ry="11" fill="#ffff40" opacity="1" filter="url(#bl1)"/>
<ellipse cx="515.6" cy="175" rx="0.7" ry="7" fill="#ffffff" opacity="1" filter="url(#bl1)"/>
<rect x="466" y="188.5" width="169.5" height="30" fill="#000"/>
<line x1="466" y1="65.3" x2="635.5" y2="65.3" stroke="#a8a8a8" stroke-width="0.8"/>
<line x1="466" y1="92.4" x2="635.5" y2="92.4" stroke="#a8a8a8" stroke-width="0.8"/>
<line x1="466" y1="108.2" x2="635.5" y2="108.2" stroke="#a8a8a8" stroke-width="0.8"/>
<line x1="466" y1="135.2" x2="635.5" y2="135.2" stroke="#a8a8a8" stroke-width="0.8"/>
<line x1="466" y1="150.4" x2="635.5" y2="150.4" stroke="#a8a8a8" stroke-width="0.8"/>
<line x1="466" y1="178.2" x2="635.5" y2="178.2" stroke="#a8a8a8" stroke-width="0.8"/>
<line x1="466" y1="180.6" x2="635.5" y2="180.6" stroke="#a8a8a8" stroke-width="0.8"/>
<line x1="466" y1="188.5" x2="635.5" y2="188.5" stroke="#a8a8a8" stroke-width="0.8"/>
</g>
<line x1="633.0" y1="216.4" x2="635.5" y2="216.4" stroke="#666" stroke-width="0.7"/>
<line x1="633.0" y1="188.6" x2="635.5" y2="188.6" stroke="#666" stroke-width="0.7"/>
<line x1="633.0" y1="160.8" x2="635.5" y2="160.8" stroke="#666" stroke-width="0.7"/>
<line x1="633.0" y1="133.0" x2="635.5" y2="133.0" stroke="#666" stroke-width="0.7"/>
<line x1="633.0" y1="105.2" x2="635.5" y2="105.2" stroke="#666" stroke-width="0.7"/>
<line x1="633.0" y1="77.4" x2="635.5" y2="77.4" stroke="#666" stroke-width="0.7"/>
<line x1="508.4" y1="214.0" x2="508.4" y2="216.5" stroke="#666" stroke-width="0.7"/>
<line x1="550.8" y1="214.0" x2="550.8" y2="216.5" stroke="#666" stroke-width="0.7"/>
<line x1="593.2" y1="214.0" x2="593.2" y2="216.5" stroke="#666" stroke-width="0.7"/>
<text x="468.3" y="62.6" font-size="15" fill="#fff" text-anchor="start" font-weight="normal" textLength="72" lengthAdjust="spacingAndGlyphs" >Simulation</text>
<text x="588.3" y="108.2" font-size="15" fill="#fff" text-anchor="middle" font-weight="normal" textLength="59.6" lengthAdjust="spacingAndGlyphs" >Photonic</text>
<text x="588.2" y="128.1" font-size="15" fill="#fff" text-anchor="middle" font-weight="normal" textLength="43" lengthAdjust="spacingAndGlyphs" >crystal</text>
<text x="528" y="187.8" font-size="11" fill="#fff" text-anchor="start" font-weight="normal" textLength="105.5" lengthAdjust="spacingAndGlyphs" >Quasi-2D Perovskite</text>
<text x="591.5" y="205.9" font-size="14" fill="#fff" text-anchor="middle" font-weight="normal" textLength="17.2" lengthAdjust="spacingAndGlyphs" >Ag</text>
<line x1="592.9" y1="57" x2="592.9" y2="91.6" stroke="#fff" stroke-width="1.4"/>
<polygon points="592.9,52.2 590,58.5 595.8,58.5" fill="#fff"/>
<line x1="592.9" y1="134.5" x2="592.9" y2="169" stroke="#fff" stroke-width="1.4"/>
<polygon points="592.9,173.7 590,167.9 595.8,167.9" fill="#fff"/>
<text x="637.5" y="220.5" font-size="13" fill="#000" text-anchor="start" font-weight="normal" >0</text>
<text x="637.5" y="194.3" font-size="13" fill="#000" text-anchor="start" font-weight="normal" >100</text>
<text x="637.5" y="166.9" font-size="13" fill="#000" text-anchor="start" font-weight="normal" >200</text>
<text x="637.5" y="137.7" font-size="13" fill="#000" text-anchor="start" font-weight="normal" >300</text>
<text x="637.5" y="110.1" font-size="13" fill="#000" text-anchor="start" font-weight="normal" >400</text>
<text x="637.5" y="81.7" font-size="13" fill="#000" text-anchor="start" font-weight="normal" >500</text>
<text transform="translate(679.1,180.1) rotate(-90)" x="0" y="0" font-size="17.5" fill="#000" textLength="102.8" lengthAdjust="spacingAndGlyphs">Position (nm)</text>
<text x="466.0" y="236.2" font-size="13" fill="#000" text-anchor="middle" font-weight="normal" >400</text>
<text x="508.4" y="236.2" font-size="13" fill="#000" text-anchor="middle" font-weight="normal" >500</text>
<text x="550.8" y="236.2" font-size="13" fill="#000" text-anchor="middle" font-weight="normal" >600</text>
<text x="593.2" y="236.2" font-size="13" fill="#000" text-anchor="middle" font-weight="normal" >700</text>
<text x="635.6" y="236.2" font-size="13" fill="#000" text-anchor="middle" font-weight="normal" >800</text>
<text x="484" y="258.5" font-size="17.5" fill="#000" text-anchor="start" font-weight="normal" textLength="135" lengthAdjust="spacingAndGlyphs" >Wavelength (nm)</text>
<rect x="115.4" y="286.3" width="175.70000000000002" height="175.3" fill="none" stroke="#333" stroke-width="1.2"/>
<line x1="115.4" y1="461.6" x2="119.4" y2="461.6" stroke="#333" stroke-width="1"/>
<line x1="115.4" y1="442.1" x2="117.9" y2="442.1" stroke="#333" stroke-width="1"/>
<line x1="115.4" y1="422.6" x2="119.4" y2="422.6" stroke="#333" stroke-width="1"/>
<line x1="115.4" y1="403.2" x2="117.9" y2="403.2" stroke="#333" stroke-width="1"/>
<line x1="115.4" y1="383.7" x2="119.4" y2="383.7" stroke="#333" stroke-width="1"/>
<line x1="115.4" y1="364.2" x2="117.9" y2="364.2" stroke="#333" stroke-width="1"/>
<line x1="115.4" y1="344.7" x2="119.4" y2="344.7" stroke="#333" stroke-width="1"/>
<line x1="115.4" y1="325.3" x2="117.9" y2="325.3" stroke="#333" stroke-width="1"/>
<line x1="115.4" y1="305.8" x2="119.4" y2="305.8" stroke="#333" stroke-width="1"/>
<line x1="291.1" y1="461.6" x2="287.1" y2="461.6" stroke="#333" stroke-width="1"/>
<line x1="291.1" y1="444.1" x2="288.6" y2="444.1" stroke="#333" stroke-width="1"/>
<line x1="291.1" y1="426.5" x2="287.1" y2="426.5" stroke="#333" stroke-width="1"/>
<line x1="291.1" y1="409.0" x2="288.6" y2="409.0" stroke="#333" stroke-width="1"/>
<line x1="291.1" y1="391.5" x2="287.1" y2="391.5" stroke="#333" stroke-width="1"/>
<line x1="291.1" y1="374.0" x2="288.6" y2="374.0" stroke="#333" stroke-width="1"/>
<line x1="291.1" y1="356.4" x2="287.1" y2="356.4" stroke="#333" stroke-width="1"/>
<line x1="291.1" y1="338.9" x2="288.6" y2="338.9" stroke="#333" stroke-width="1"/>
<line x1="291.1" y1="321.4" x2="287.1" y2="321.4" stroke="#333" stroke-width="1"/>
<line x1="291.1" y1="303.8" x2="288.6" y2="303.8" stroke="#333" stroke-width="1"/>
<line x1="130.0" y1="461.6" x2="130.0" y2="459.1" stroke="#333" stroke-width="1"/>
<line x1="144.7" y1="461.6" x2="144.7" y2="457.6" stroke="#333" stroke-width="1"/>
<line x1="159.3" y1="461.6" x2="159.3" y2="459.1" stroke="#333" stroke-width="1"/>
<line x1="174.0" y1="461.6" x2="174.0" y2="457.6" stroke="#333" stroke-width="1"/>
<line x1="188.6" y1="461.6" x2="188.6" y2="459.1" stroke="#333" stroke-width="1"/>
<line x1="203.2" y1="461.6" x2="203.2" y2="457.6" stroke="#333" stroke-width="1"/>
<line x1="217.9" y1="461.6" x2="217.9" y2="459.1" stroke="#333" stroke-width="1"/>
<line x1="232.5" y1="461.6" x2="232.5" y2="457.6" stroke="#333" stroke-width="1"/>
<line x1="247.2" y1="461.6" x2="247.2" y2="459.1" stroke="#333" stroke-width="1"/>
<line x1="261.8" y1="461.6" x2="261.8" y2="457.6" stroke="#333" stroke-width="1"/>
<line x1="276.5" y1="461.6" x2="276.5" y2="459.1" stroke="#333" stroke-width="1"/>
<text x="111" y="466.20000000000005" font-size="13" fill="#000" text-anchor="end" font-weight="normal" >0</text>
<text x="111" y="427.24444444444447" font-size="13" fill="#000" text-anchor="end" font-weight="normal" >2</text>
<text x="111" y="388.28888888888895" font-size="13" fill="#000" text-anchor="end" font-weight="normal" >4</text>
<text x="111" y="349.33333333333337" font-size="13" fill="#000" text-anchor="end" font-weight="normal" >6</text>
<text x="111" y="310.37777777777785" font-size="13" fill="#000" text-anchor="end" font-weight="normal" >8</text>
<text x="293.5" y="466.3" font-size="13" fill="#000" text-anchor="start" font-weight="normal" textLength="17.5" lengthAdjust="spacingAndGlyphs" >0.0</text>
<text x="293.5" y="431.24" font-size="13" fill="#000" text-anchor="start" font-weight="normal" textLength="17.5" lengthAdjust="spacingAndGlyphs" >0.2</text>
<text x="293.5" y="396.18" font-size="13" fill="#000" text-anchor="start" font-weight="normal" textLength="17.5" lengthAdjust="spacingAndGlyphs" >0.4</text>
<text x="293.5" y="361.12" font-size="13" fill="#000" text-anchor="start" font-weight="normal" textLength="17.5" lengthAdjust="spacingAndGlyphs" >0.6</text>
<text x="293.5" y="326.06" font-size="13" fill="#000" text-anchor="start" font-weight="normal" textLength="17.5" lengthAdjust="spacingAndGlyphs" >0.8</text>
<text x="293.5" y="291.0" font-size="13" fill="#000" text-anchor="start" font-weight="normal" textLength="17.5" lengthAdjust="spacingAndGlyphs" >1.0</text>
<text x="115.4" y="477.7" font-size="13" fill="#000" text-anchor="middle" font-weight="normal" >400</text>
<text x="144.7" y="477.7" font-size="13" fill="#000" text-anchor="middle" font-weight="normal" >450</text>
<text x="174.0" y="477.7" font-size="13" fill="#000" text-anchor="middle" font-weight="normal" >500</text>
<text x="203.2" y="477.7" font-size="13" fill="#000" text-anchor="middle" font-weight="normal" >550</text>
<text x="232.5" y="477.7" font-size="13" fill="#000" text-anchor="middle" font-weight="normal" >600</text>
<text x="261.8" y="477.7" font-size="13" fill="#000" text-anchor="middle" font-weight="normal" >650</text>
<text x="291.1" y="477.7" font-size="13" fill="#000" text-anchor="middle" font-weight="normal" >700</text>
<text x="114.9" y="281" font-size="13" fill="#000" text-anchor="start" font-weight="normal" >x10</text>
<text x="136.3" y="275.5" font-size="10" fill="#000" text-anchor="start" font-weight="normal" >2</text>
<text x="135" y="505.7" font-size="17.5" fill="#000" text-anchor="start" font-weight="normal" textLength="136.6" lengthAdjust="spacingAndGlyphs" >Wavelength (nm)</text>
<text transform="translate(76.4,437) rotate(-90)" font-size="17.5" fill="#000" textLength="133" lengthAdjust="spacingAndGlyphs">Reflectance at 8°</text>
<text transform="translate(97.2,411.5) rotate(-90)" font-size="17.5" fill="#000" textLength="88" lengthAdjust="spacingAndGlyphs">(arb. units)</text>
<text transform="translate(332.6,483.6) rotate(-90)" font-size="17.5" fill="#000" textLength="218" lengthAdjust="spacingAndGlyphs">Photoluminescence (norm.)</text>
<text x="268.4" y="272.8" font-size="10" fill="#000" text-anchor="middle" font-weight="normal" textLength="47.2" lengthAdjust="spacingAndGlyphs" >Perovskite</text>
<text x="268.4" y="283.1" font-size="10" fill="#000" text-anchor="middle" font-weight="normal" textLength="42.7" lengthAdjust="spacingAndGlyphs" >thickness</text>
<path d="M115.40,453.22 L115.90,452.77 L116.40,452.33 L116.90,451.91 L117.40,451.50 L117.90,451.11 L118.40,450.73 L118.90,450.37 L119.40,450.02 L119.90,449.69 L120.40,449.38 L120.90,449.08 L121.40,448.80 L121.90,448.53 L122.40,448.27 L122.90,448.03 L123.40,447.79 L123.90,447.57 L124.40,447.35 L124.90,447.15 L125.40,446.96 L125.90,446.78 L126.40,446.61 L126.90,446.46 L127.40,446.32 L127.90,446.19 L128.40,446.08 L128.90,445.98 L129.40,445.89 L129.90,445.81 L130.40,445.74 L130.90,445.67 L131.40,445.61 L131.90,445.56 L132.40,445.52 L132.90,445.49 L133.40,445.47 L133.90,445.45 L134.40,445.45 L134.90,445.45 L135.40,445.46 L135.90,445.48 L136.40,445.51 L136.90,445.54 L137.40,445.58 L137.90,445.63 L138.40,445.69 L138.90,445.75 L139.40,445.81 L139.90,445.89 L140.40,445.97 L140.90,446.06 L141.40,446.15 L141.90,446.25 L142.40,446.36 L142.90,446.47 L143.40,446.59 L143.90,446.72 L144.40,446.86 L144.90,447.00 L145.40,447.15 L145.90,447.31 L146.40,447.47 L146.90,447.65 L147.40,447.83 L147.90,448.02 L148.40,448.22 L148.90,448.43 L149.40,448.64 L149.90,448.87 L150.40,449.11 L150.90,449.36 L151.40,449.62 L151.90,449.89 L152.40,450.17 L152.90,450.47 L153.40,450.77 L153.90,451.09 L154.40,451.44 L154.90,451.80 L155.40,452.18 L155.90,452.57 L156.40,452.97 L156.90,453.38 L157.40,453.79 L157.90,454.20 L158.40,454.60 L158.90,454.99 L159.40,455.38 L159.90,455.75 L160.40,456.14 L160.90,456.54 L161.40,456.94 L161.90,457.30 L162.40,457.62 L162.90,457.88 L163.40,458.04 L163.90,458.11 L164.40,458.04 L164.90,457.84 L165.40,457.51 L165.90,457.09 L166.40,456.60 L166.90,456.06 L167.40,455.49 L167.90,454.93 L168.40,454.40 L168.90,453.87 L169.40,453.32 L169.90,452.75 L170.40,452.16 L170.90,451.57 L171.40,450.98 L171.90,450.39 L172.40,449.82 L172.90,449.26 L173.40,448.73 L173.90,448.23 L174.40,447.77 L174.90,447.35 L175.40,446.97 L175.90,446.61 L176.40,446.28 L176.90,445.98 L177.40,445.71 L177.90,445.46 L178.40,445.24 L178.90,445.04 L179.40,444.87 L179.90,444.72 L180.40,444.59 L180.90,444.48 L181.40,444.39 L181.90,444.31 L182.40,444.25 L182.90,444.19 L183.40,444.13 L183.90,444.07 L184.40,444.01 L184.90,443.96 L185.40,443.90 L185.90,443.85 L186.40,443.79 L186.90,443.74 L187.40,443.69 L187.90,443.64 L188.40,443.60 L188.90,443.55 L189.40,443.51 L189.90,443.48 L190.40,443.44 L190.90,443.41 L191.40,443.38 L191.90,443.36 L192.40,443.34 L192.90,443.32 L193.40,443.31 L193.90,443.30 L194.40,443.30 L194.90,443.29 L195.40,443.29 L195.90,443.28 L196.40,443.28 L196.90,443.27 L197.40,443.27 L197.90,443.26 L198.40,443.25 L198.90,443.25 L199.40,443.24 L199.90,443.24 L200.40,443.23 L200.90,443.23 L201.40,443.22 L201.90,443.22 L202.40,443.21 L202.90,443.21 L203.40,443.20 L203.90,443.20 L204.40,443.19 L204.90,443.18 L205.40,443.18 L205.90,443.17 L206.40,443.17 L206.90,443.16 L207.40,443.16 L207.90,443.15 L208.40,443.15 L208.90,443.14 L209.40,443.14 L209.90,443.13 L210.40,443.12 L210.90,443.12 L211.40,443.11 L211.90,443.11 L212.40,443.10 L212.90,443.10 L213.40,443.09 L213.90,443.09 L214.40,443.08 L214.90,443.08 L215.40,443.07 L215.90,443.07 L216.40,443.06 L216.90,443.06 L217.40,443.05 L217.90,443.05 L218.40,443.04 L218.90,443.04 L219.40,443.03 L219.90,443.03 L220.40,443.02 L220.90,443.02 L221.40,443.01 L221.90,443.01 L222.40,443.01 L222.90,443.00 L223.40,443.00 L223.90,442.99 L224.40,442.99 L224.90,442.98 L225.40,442.98 L225.90,442.98 L226.40,442.97 L226.90,442.97 L227.40,442.97 L227.90,442.96 L228.40,442.96 L228.90,442.95 L229.40,442.95 L229.90,442.95 L230.40,442.94 L230.90,442.94 L231.40,442.94 L231.90,442.93 L232.40,442.93 L232.90,442.93 L233.40,442.93 L233.90,442.92 L234.40,442.92 L234.90,442.92 L235.40,442.92 L235.90,442.91 L236.40,442.91 L236.90,442.91 L237.40,442.91 L237.90,442.91 L238.40,442.90 L238.90,442.90 L239.40,442.90 L239.90,442.90 L240.40,442.90 L240.90,442.90 L241.40,442.90 L241.90,442.90 L242.40,442.89 L242.90,442.89 L243.40,442.89 L243.90,442.89 L244.40,442.89 L244.90,442.89 L245.40,442.89 L245.90,442.88 L246.40,442.88 L246.90,442.88 L247.40,442.88 L247.90,442.88 L248.40,442.88 L248.90,442.87 L249.40,442.87 L249.90,442.87 L250.40,442.87 L250.90,442.87 L251.40,442.87 L251.90,442.87 L252.40,442.86 L252.90,442.86 L253.40,442.86 L253.90,442.86 L254.40,442.86 L254.90,442.86 L255.40,442.85 L255.90,442.85 L256.40,442.85 L256.90,442.85 L257.40,442.85 L257.90,442.85 L258.40,442.85 L258.90,442.84 L259.40,442.84 L259.90,442.84 L260.40,442.84 L260.90,442.84 L261.40,442.84 L261.90,442.84 L262.40,442.83 L262.90,442.83 L263.40,442.83 L263.90,442.83 L264.40,442.83 L264.90,442.83 L265.40,442.83 L265.90,442.82 L266.40,442.82 L266.90,442.82 L267.40,442.82 L267.90,442.82 L268.40,442.82 L268.90,442.82 L269.40,442.82 L269.90,442.81 L270.40,442.81 L270.90,442.81 L271.40,442.81 L271.90,442.81 L272.40,442.81 L272.90,442.81 L273.40,442.81 L273.90,442.81 L274.40,442.81 L274.90,442.80 L275.40,442.80 L275.90,442.80 L276.40,442.80 L276.90,442.80 L277.40,442.80 L277.90,442.80 L278.40,442.80 L278.90,442.80 L279.40,442.80 L279.90,442.80 L280.40,442.80 L280.90,442.80 L281.40,442.80 L281.90,442.80 L282.40,442.80 L282.90,442.80 L283.40,442.80 L283.90,442.80 L284.40,442.80 L284.90,442.80 L285.40,442.80 L285.90,442.80 L286.40,442.80 L286.90,442.80 L287.40,442.80 L287.90,442.80 L288.40,442.80 L288.90,442.80 L289.40,442.80 L289.90,442.80 L290.40,442.80 L290.90,442.80" fill="none" stroke="#4a1616" stroke-width="1.8" stroke-linejoin="round"/>
<path d="M115.40,436.32 L115.90,435.89 L116.40,435.47 L116.90,435.06 L117.40,434.66 L117.90,434.28 L118.40,433.90 L118.90,433.54 L119.40,433.19 L119.90,432.86 L120.40,432.53 L120.90,432.23 L121.40,431.93 L121.90,431.66 L122.40,431.39 L122.90,431.15 L123.40,430.92 L123.90,430.70 L124.40,430.50 L124.90,430.30 L125.40,430.12 L125.90,429.94 L126.40,429.77 L126.90,429.60 L127.40,429.44 L127.90,429.30 L128.40,429.15 L128.90,429.02 L129.40,428.89 L129.90,428.77 L130.40,428.66 L130.90,428.55 L131.40,428.45 L131.90,428.36 L132.40,428.27 L132.90,428.19 L133.40,428.11 L133.90,428.05 L134.40,427.98 L134.90,427.93 L135.40,427.88 L135.90,427.83 L136.40,427.79 L136.90,427.76 L137.40,427.73 L137.90,427.71 L138.40,427.69 L138.90,427.68 L139.40,427.68 L139.90,427.68 L140.40,427.69 L140.90,427.70 L141.40,427.72 L141.90,427.75 L142.40,427.78 L142.90,427.82 L143.40,427.86 L143.90,427.91 L144.40,427.97 L144.90,428.03 L145.40,428.10 L145.90,428.18 L146.40,428.26 L146.90,428.35 L147.40,428.44 L147.90,428.55 L148.40,428.65 L148.90,428.77 L149.40,428.90 L149.90,429.04 L150.40,429.18 L150.90,429.34 L151.40,429.52 L151.90,429.70 L152.40,429.90 L152.90,430.11 L153.40,430.33 L153.90,430.56 L154.40,430.81 L154.90,431.07 L155.40,431.35 L155.90,431.64 L156.40,431.95 L156.90,432.27 L157.40,432.60 L157.90,432.96 L158.40,433.32 L158.90,433.71 L159.40,434.14 L159.90,434.58 L160.40,435.06 L160.90,435.54 L161.40,436.04 L161.90,436.55 L162.40,437.06 L162.90,437.57 L163.40,438.07 L163.90,438.56 L164.40,439.03 L164.90,439.48 L165.40,439.98 L165.90,440.49 L166.40,440.94 L166.90,441.28 L167.40,441.44 L167.90,441.37 L168.40,441.12 L168.90,440.75 L169.40,440.29 L169.90,439.75 L170.40,439.17 L170.90,438.55 L171.40,437.93 L171.90,437.33 L172.40,436.75 L172.90,436.16 L173.40,435.55 L173.90,434.92 L174.40,434.29 L174.90,433.65 L175.40,433.02 L175.90,432.40 L176.40,431.79 L176.90,431.20 L177.40,430.64 L177.90,430.10 L178.40,429.60 L178.90,429.14 L179.40,428.72 L179.90,428.33 L180.40,427.98 L180.90,427.66 L181.40,427.37 L181.90,427.11 L182.40,426.89 L182.90,426.68 L183.40,426.51 L183.90,426.36 L184.40,426.23 L184.90,426.13 L185.40,426.04 L185.90,425.97 L186.40,425.91 L186.90,425.85 L187.40,425.79 L187.90,425.73 L188.40,425.68 L188.90,425.62 L189.40,425.57 L189.90,425.52 L190.40,425.48 L190.90,425.44 L191.40,425.40 L191.90,425.37 L192.40,425.34 L192.90,425.32 L193.40,425.31 L193.90,425.30 L194.40,425.30 L194.90,425.29 L195.40,425.29 L195.90,425.29 L196.40,425.28 L196.90,425.28 L197.40,425.27 L197.90,425.27 L198.40,425.27 L198.90,425.26 L199.40,425.26 L199.90,425.25 L200.40,425.25 L200.90,425.25 L201.40,425.24 L201.90,425.24 L202.40,425.24 L202.90,425.23 L203.40,425.23 L203.90,425.22 L204.40,425.22 L204.90,425.22 L205.40,425.21 L205.90,425.21 L206.40,425.20 L206.90,425.20 L207.40,425.20 L207.90,425.19 L208.40,425.19 L208.90,425.18 L209.40,425.18 L209.90,425.18 L210.40,425.17 L210.90,425.17 L211.40,425.16 L211.90,425.16 L212.40,425.16 L212.90,425.15 L213.40,425.15 L213.90,425.14 L214.40,425.14 L214.90,425.14 L215.40,425.13 L215.90,425.13 L216.40,425.12 L216.90,425.12 L217.40,425.12 L217.90,425.11 L218.40,425.11 L218.90,425.11 L219.40,425.10 L219.90,425.10 L220.40,425.10 L220.90,425.09 L221.40,425.09 L221.90,425.09 L222.40,425.08 L222.90,425.08 L223.40,425.08 L223.90,425.07 L224.40,425.07 L224.90,425.07 L225.40,425.06 L225.90,425.06 L226.40,425.06 L226.90,425.05 L227.40,425.05 L227.90,425.05 L228.40,425.05 L228.90,425.04 L229.40,425.04 L229.90,425.04 L230.40,425.04 L230.90,425.03 L231.40,425.03 L231.90,425.03 L232.40,425.03 L232.90,425.02 L233.40,425.02 L233.90,425.02 L234.40,425.02 L234.90,425.02 L235.40,425.01 L235.90,425.01 L236.40,425.01 L236.90,425.01 L237.40,425.01 L237.90,425.01 L238.40,425.00 L238.90,425.00 L239.40,425.00 L239.90,425.00 L240.40,425.00 L240.90,425.00 L241.40,425.00 L241.90,425.00 L242.40,424.99 L242.90,424.99 L243.40,424.99 L243.90,424.99 L244.40,424.99 L244.90,424.99 L245.40,424.99 L245.90,424.99 L246.40,424.98 L246.90,424.98 L247.40,424.98 L247.90,424.98 L248.40,424.98 L248.90,424.98 L249.40,424.98 L249.90,424.98 L250.40,424.97 L250.90,424.97 L251.40,424.97 L251.90,424.97 L252.40,424.97 L252.90,424.97 L253.40,424.97 L253.90,424.96 L254.40,424.96 L254.90,424.96 L255.40,424.96 L255.90,424.96 L256.40,424.96 L256.90,424.96 L257.40,424.96 L257.90,424.95 L258.40,424.95 L258.90,424.95 L259.40,424.95 L259.90,424.95 L260.40,424.95 L260.90,424.95 L261.40,424.94 L261.90,424.94 L262.40,424.94 L262.90,424.94 L263.40,424.94 L263.90,424.94 L264.40,424.94 L264.90,424.94 L265.40,424.93 L265.90,424.93 L266.40,424.93 L266.90,424.93 L267.40,424.93 L267.90,424.93 L268.40,424.93 L268.90,424.93 L269.40,424.92 L269.90,424.92 L270.40,424.92 L270.90,424.92 L271.40,424.92 L271.90,424.92 L272.40,424.92 L272.90,424.92 L273.40,424.92 L273.90,424.92 L274.40,424.91 L274.90,424.91 L275.40,424.91 L275.90,424.91 L276.40,424.91 L276.90,424.91 L277.40,424.91 L277.90,424.91 L278.40,424.91 L278.90,424.91 L279.40,424.91 L279.90,424.91 L280.40,424.91 L280.90,424.90 L281.40,424.90 L281.90,424.90 L282.40,424.90 L282.90,424.90 L283.40,424.90 L283.90,424.90 L284.40,424.90 L284.90,424.90 L285.40,424.90 L285.90,424.90 L286.40,424.90 L286.90,424.90 L287.40,424.90 L287.90,424.90 L288.40,424.90 L288.90,424.90 L289.40,424.90 L289.90,424.90 L290.40,424.90 L290.90,424.90" fill="none" stroke="#801c20" stroke-width="1.8" stroke-linejoin="round"/>
<path d="M115.40,419.02 L115.90,418.57 L116.40,418.13 L116.90,417.70 L117.40,417.28 L117.90,416.88 L118.40,416.49 L118.90,416.11 L119.40,415.74 L119.90,415.38 L120.40,415.04 L120.90,414.71 L121.40,414.39 L121.90,414.09 L122.40,413.79 L122.90,413.52 L123.40,413.25 L123.90,413.00 L124.40,412.76 L124.90,412.53 L125.40,412.30 L125.90,412.08 L126.40,411.87 L126.90,411.66 L127.40,411.47 L127.90,411.28 L128.40,411.10 L128.90,410.92 L129.40,410.76 L129.90,410.60 L130.40,410.45 L130.90,410.31 L131.40,410.17 L131.90,410.05 L132.40,409.93 L132.90,409.82 L133.40,409.72 L133.90,409.63 L134.40,409.54 L134.90,409.47 L135.40,409.40 L135.90,409.34 L136.40,409.29 L136.90,409.25 L137.40,409.21 L137.90,409.18 L138.40,409.16 L138.90,409.14 L139.40,409.12 L139.90,409.11 L140.40,409.11 L140.90,409.11 L141.40,409.12 L141.90,409.13 L142.40,409.15 L142.90,409.17 L143.40,409.20 L143.90,409.23 L144.40,409.26 L144.90,409.30 L145.40,409.34 L145.90,409.39 L146.40,409.44 L146.90,409.50 L147.40,409.56 L147.90,409.62 L148.40,409.69 L148.90,409.76 L149.40,409.83 L149.90,409.91 L150.40,409.98 L150.90,410.07 L151.40,410.15 L151.90,410.24 L152.40,410.34 L152.90,410.45 L153.40,410.56 L153.90,410.68 L154.40,410.81 L154.90,410.95 L155.40,411.09 L155.90,411.25 L156.40,411.42 L156.90,411.61 L157.40,411.80 L157.90,412.00 L158.40,412.22 L158.90,412.46 L159.40,412.71 L159.90,412.97 L160.40,413.25 L160.90,413.54 L161.40,413.86 L161.90,414.22 L162.40,414.62 L162.90,415.06 L163.40,415.52 L163.90,416.00 L164.40,416.50 L164.90,417.01 L165.40,417.52 L165.90,418.04 L166.40,418.54 L166.90,419.04 L167.40,419.52 L167.90,419.97 L168.40,420.40 L168.90,420.82 L169.40,421.25 L169.90,421.68 L170.40,422.09 L170.90,422.46 L171.40,422.77 L171.90,423.02 L172.40,423.19 L172.90,423.25 L173.40,423.20 L173.90,423.02 L174.40,422.74 L174.90,422.35 L175.40,421.89 L175.90,421.37 L176.40,420.80 L176.90,420.20 L177.40,419.58 L177.90,418.97 L178.40,418.38 L178.90,417.76 L179.40,417.10 L179.90,416.40 L180.40,415.68 L180.90,414.96 L181.40,414.23 L181.90,413.52 L182.40,412.83 L182.90,412.18 L183.40,411.59 L183.90,411.05 L184.40,410.58 L184.90,410.19 L185.40,409.85 L185.90,409.55 L186.40,409.29 L186.90,409.07 L187.40,408.89 L187.90,408.74 L188.40,408.62 L188.90,408.54 L189.40,408.47 L189.90,408.43 L190.40,408.41 L190.90,408.40 L191.40,408.39 L191.90,408.39 L192.40,408.38 L192.90,408.38 L193.40,408.37 L193.90,408.37 L194.40,408.36 L194.90,408.36 L195.40,408.35 L195.90,408.35 L196.40,408.34 L196.90,408.34 L197.40,408.33 L197.90,408.33 L198.40,408.32 L198.90,408.31 L199.40,408.31 L199.90,408.30 L200.40,408.30 L200.90,408.29 L201.40,408.29 L201.90,408.28 L202.40,408.28 L202.90,408.27 L203.40,408.27 L203.90,408.26 L204.40,408.26 L204.90,408.25 L205.40,408.25 L205.90,408.24 L206.40,408.24 L206.90,408.23 L207.40,408.23 L207.90,408.22 L208.40,408.22 L208.90,408.21 L209.40,408.21 L209.90,408.20 L210.40,408.20 L210.90,408.19 L211.40,408.19 L211.90,408.18 L212.40,408.18 L212.90,408.17 L213.40,408.17 L213.90,408.16 L214.40,408.16 L214.90,408.15 L215.40,408.15 L215.90,408.14 L216.40,408.14 L216.90,408.14 L217.40,408.13 L217.90,408.13 L218.40,408.12 L218.90,408.12 L219.40,408.11 L219.90,408.11 L220.40,408.11 L220.90,408.10 L221.40,408.10 L221.90,408.09 L222.40,408.09 L222.90,408.09 L223.40,408.08 L223.90,408.08 L224.40,408.08 L224.90,408.07 L225.40,408.07 L225.90,408.06 L226.40,408.06 L226.90,408.06 L227.40,408.05 L227.90,408.05 L228.40,408.05 L228.90,408.05 L229.40,408.04 L229.90,408.04 L230.40,408.04 L230.90,408.03 L231.40,408.03 L231.90,408.03 L232.40,408.03 L232.90,408.02 L233.40,408.02 L233.90,408.02 L234.40,408.02 L234.90,408.02 L235.40,408.01 L235.90,408.01 L236.40,408.01 L236.90,408.01 L237.40,408.01 L237.90,408.01 L238.40,408.00 L238.90,408.00 L239.40,408.00 L239.90,408.00 L240.40,408.00 L240.90,408.00 L241.40,408.00 L241.90,408.00 L242.40,407.99 L242.90,407.99 L243.40,407.99 L243.90,407.99 L244.40,407.99 L244.90,407.99 L245.40,407.99 L245.90,407.99 L246.40,407.98 L246.90,407.98 L247.40,407.98 L247.90,407.98 L248.40,407.98 L248.90,407.98 L249.40,407.98 L249.90,407.98 L250.40,407.97 L250.90,407.97 L251.40,407.97 L251.90,407.97 L252.40,407.97 L252.90,407.97 L253.40,407.96 L253.90,407.96 L254.40,407.96 L254.90,407.96 L255.40,407.96 L255.90,407.96 L256.40,407.96 L256.90,407.95 L257.40,407.95 L257.90,407.95 L258.40,407.95 L258.90,407.95 L259.40,407.95 L259.90,407.95 L260.40,407.94 L260.90,407.94 L261.40,407.94 L261.90,407.94 L262.40,407.94 L262.90,407.94 L263.40,407.94 L263.90,407.93 L264.40,407.93 L264.90,407.93 L265.40,407.93 L265.90,407.93 L266.40,407.93 L266.90,407.93 L267.40,407.92 L267.90,407.92 L268.40,407.92 L268.90,407.92 L269.40,407.92 L269.90,407.92 L270.40,407.92 L270.90,407.92 L271.40,407.92 L271.90,407.91 L272.40,407.91 L272.90,407.91 L273.40,407.91 L273.90,407.91 L274.40,407.91 L274.90,407.91 L275.40,407.91 L275.90,407.91 L276.40,407.91 L276.90,407.90 L277.40,407.90 L277.90,407.90 L278.40,407.90 L278.90,407.90 L279.40,407.90 L279.90,407.90 L280.40,407.90 L280.90,407.90 L281.40,407.90 L281.90,407.90 L282.40,407.90 L282.90,407.90 L283.40,407.90 L283.90,407.90 L284.40,407.90 L284.90,407.90 L285.40,407.90 L285.90,407.90 L286.40,407.90 L286.90,407.90 L287.40,407.90 L287.90,407.90 L288.40,407.90 L288.90,407.90 L289.40,407.90 L289.90,407.90 L290.40,407.90 L290.90,407.90" fill="none" stroke="#b31820" stroke-width="1.8" stroke-linejoin="round"/>
<path d="M115.40,401.47 L115.90,401.31 L116.40,401.14 L116.90,400.96 L117.40,400.78 L117.90,400.59 L118.40,400.39 L118.90,400.19 L119.40,399.98 L119.90,399.77 L120.40,399.56 L120.90,399.34 L121.40,399.12 L121.90,398.90 L122.40,398.67 L122.90,398.42 L123.40,398.16 L123.90,397.88 L124.40,397.59 L124.90,397.29 L125.40,396.99 L125.90,396.68 L126.40,396.36 L126.90,396.04 L127.40,395.73 L127.90,395.41 L128.40,395.10 L128.90,394.80 L129.40,394.50 L129.90,394.22 L130.40,393.94 L130.90,393.68 L131.40,393.44 L131.90,393.21 L132.40,393.00 L132.90,392.81 L133.40,392.63 L133.90,392.47 L134.40,392.31 L134.90,392.17 L135.40,392.04 L135.90,391.92 L136.40,391.81 L136.90,391.71 L137.40,391.62 L137.90,391.53 L138.40,391.46 L138.90,391.39 L139.40,391.33 L139.90,391.28 L140.40,391.23 L140.90,391.19 L141.40,391.15 L141.90,391.12 L142.40,391.10 L142.90,391.07 L143.40,391.05 L143.90,391.04 L144.40,391.02 L144.90,391.01 L145.40,391.00 L145.90,390.99 L146.40,390.99 L146.90,390.99 L147.40,390.99 L147.90,390.99 L148.40,391.00 L148.90,391.01 L149.40,391.02 L149.90,391.04 L150.40,391.06 L150.90,391.09 L151.40,391.12 L151.90,391.15 L152.40,391.19 L152.90,391.23 L153.40,391.27 L153.90,391.32 L154.40,391.38 L154.90,391.44 L155.40,391.50 L155.90,391.57 L156.40,391.64 L156.90,391.72 L157.40,391.80 L157.90,391.88 L158.40,391.97 L158.90,392.07 L159.40,392.17 L159.90,392.28 L160.40,392.39 L160.90,392.51 L161.40,392.65 L161.90,392.79 L162.40,392.94 L162.90,393.10 L163.40,393.28 L163.90,393.46 L164.40,393.66 L164.90,393.87 L165.40,394.09 L165.90,394.32 L166.40,394.57 L166.90,394.83 L167.40,395.10 L167.90,395.39 L168.40,395.69 L168.90,396.00 L169.40,396.33 L169.90,396.68 L170.40,397.05 L170.90,397.42 L171.40,397.82 L171.90,398.22 L172.40,398.63 L172.90,399.05 L173.40,399.47 L173.90,399.89 L174.40,400.32 L174.90,400.74 L175.40,401.17 L175.90,401.59 L176.40,402.08 L176.90,402.66 L177.40,403.28 L177.90,403.93 L178.40,404.55 L178.90,405.11 L179.40,405.58 L179.90,405.92 L180.40,406.10 L180.90,406.03 L181.40,405.69 L181.90,405.12 L182.40,404.38 L182.90,403.52 L183.40,402.58 L183.90,401.63 L184.40,400.70 L184.90,399.85 L185.40,399.14 L185.90,398.56 L186.40,397.98 L186.90,397.38 L187.40,396.77 L187.90,396.16 L188.40,395.55 L188.90,394.96 L189.40,394.39 L189.90,393.84 L190.40,393.33 L190.90,392.86 L191.40,392.44 L191.90,392.08 L192.40,391.79 L192.90,391.56 L193.40,391.37 L193.90,391.19 L194.40,391.03 L194.90,390.88 L195.40,390.75 L195.90,390.62 L196.40,390.51 L196.90,390.41 L197.40,390.33 L197.90,390.25 L198.40,390.18 L198.90,390.12 L199.40,390.07 L199.90,390.03 L200.40,389.99 L200.90,389.96 L201.40,389.94 L201.90,389.92 L202.40,389.91 L202.90,389.90 L203.40,389.90 L203.90,389.90 L204.40,389.90 L204.90,389.90 L205.40,389.90 L205.90,389.90 L206.40,389.90 L206.90,389.91 L207.40,389.91 L207.90,389.91 L208.40,389.91 L208.90,389.91 L209.40,389.91 L209.90,389.91 L210.40,389.91 L210.90,389.91 L211.40,389.92 L211.90,389.92 L212.40,389.92 L212.90,389.92 L213.40,389.92 L213.90,389.92 L214.40,389.92 L214.90,389.93 L215.40,389.93 L215.90,389.93 L216.40,389.93 L216.90,389.93 L217.40,389.93 L217.90,389.93 L218.40,389.94 L218.90,389.94 L219.40,389.94 L219.90,389.94 L220.40,389.94 L220.90,389.94 L221.40,389.94 L221.90,389.95 L222.40,389.95 L222.90,389.95 L223.40,389.95 L223.90,389.95 L224.40,389.95 L224.90,389.95 L225.40,389.96 L225.90,389.96 L226.40,389.96 L226.90,389.96 L227.40,389.96 L227.90,389.96 L228.40,389.96 L228.90,389.97 L229.40,389.97 L229.90,389.97 L230.40,389.97 L230.90,389.97 L231.40,389.97 L231.90,389.97 L232.40,389.97 L232.90,389.98 L233.40,389.98 L233.90,389.98 L234.40,389.98 L234.90,389.98 L235.40,389.98 L235.90,389.98 L236.40,389.98 L236.90,389.98 L237.40,389.99 L237.90,389.99 L238.40,389.99 L238.90,389.99 L239.40,389.99 L239.90,389.99 L240.40,389.99 L240.90,389.99 L241.40,389.99 L241.90,389.99 L242.40,389.99 L242.90,390.00 L243.40,390.00 L243.90,390.00 L244.40,390.00 L244.90,390.00 L245.40,390.00 L245.90,390.00 L246.40,390.00 L246.90,390.00 L247.40,390.00 L247.90,390.00 L248.40,390.00 L248.90,390.00 L249.40,390.00 L249.90,390.00 L250.40,390.00 L250.90,390.00 L251.40,390.00 L251.90,390.00 L252.40,390.00 L252.90,390.00 L253.40,390.00 L253.90,390.00 L254.40,390.00 L254.90,390.00 L255.40,390.00 L255.90,390.00 L256.40,390.00 L256.90,390.00 L257.40,390.00 L257.90,390.00 L258.40,390.00 L258.90,390.00 L259.40,390.00 L259.90,390.00 L260.40,390.00 L260.90,390.00 L261.40,390.00 L261.90,390.00 L262.40,390.00 L262.90,390.00 L263.40,390.00 L263.90,390.00 L264.40,390.00 L264.90,390.00 L265.40,390.00 L265.90,390.00 L266.40,390.00 L266.90,390.00 L267.40,390.00 L267.90,390.00 L268.40,390.01 L268.90,390.01 L269.40,390.01 L269.90,390.01 L270.40,390.01 L270.90,390.01 L271.40,390.01 L271.90,390.01 L272.40,390.01 L272.90,390.01 L273.40,390.01 L273.90,390.01 L274.40,390.01 L274.90,390.01 L275.40,390.01 L275.90,390.01 L276.40,390.01 L276.90,390.01 L277.40,390.01 L277.90,390.01 L278.40,390.01 L278.90,390.01 L279.40,390.01 L279.90,390.01 L280.40,390.01 L280.90,390.01 L281.40,390.01 L281.90,390.01 L282.40,390.01 L282.90,390.01 L283.40,390.01 L283.90,390.01 L284.40,390.01 L284.90,390.00 L285.40,390.00 L285.90,390.00 L286.40,390.00 L286.90,390.00 L287.40,390.00 L287.90,390.00 L288.40,390.00 L288.90,390.00 L289.40,390.00 L289.90,390.00 L290.40,390.00 L290.90,390.00" fill="none" stroke="#e81c1c" stroke-width="1.8" stroke-linejoin="round"/>
<path d="M115.40,383.86 L115.90,384.13 L116.40,384.36 L116.90,384.55 L117.40,384.68 L117.90,384.73 L118.40,384.70 L118.90,384.58 L119.40,384.35 L119.90,384.05 L120.40,383.73 L120.90,383.38 L121.40,383.01 L121.90,382.63 L122.40,382.24 L122.90,381.84 L123.40,381.45 L123.90,381.07 L124.40,380.70 L124.90,380.36 L125.40,380.04 L125.90,379.74 L126.40,379.46 L126.90,379.18 L127.40,378.89 L127.90,378.61 L128.40,378.32 L128.90,378.04 L129.40,377.76 L129.90,377.48 L130.40,377.20 L130.90,376.93 L131.40,376.66 L131.90,376.39 L132.40,376.14 L132.90,375.88 L133.40,375.64 L133.90,375.40 L134.40,375.17 L134.90,374.95 L135.40,374.74 L135.90,374.53 L136.40,374.34 L136.90,374.16 L137.40,373.99 L137.90,373.84 L138.40,373.69 L138.90,373.56 L139.40,373.43 L139.90,373.31 L140.40,373.19 L140.90,373.09 L141.40,372.99 L141.90,372.90 L142.40,372.81 L142.90,372.74 L143.40,372.67 L143.90,372.60 L144.40,372.55 L144.90,372.50 L145.40,372.45 L145.90,372.41 L146.40,372.38 L146.90,372.35 L147.40,372.32 L147.90,372.30 L148.40,372.29 L148.90,372.28 L149.40,372.27 L149.90,372.27 L150.40,372.27 L150.90,372.28 L151.40,372.28 L151.90,372.29 L152.40,372.31 L152.90,372.33 L153.40,372.35 L153.90,372.37 L154.40,372.40 L154.90,372.43 L155.40,372.47 L155.90,372.51 L156.40,372.55 L156.90,372.59 L157.40,372.63 L157.90,372.68 L158.40,372.73 L158.90,372.79 L159.40,372.84 L159.90,372.90 L160.40,372.96 L160.90,373.02 L161.40,373.08 L161.90,373.15 L162.40,373.21 L162.90,373.28 L163.40,373.35 L163.90,373.42 L164.40,373.49 L164.90,373.56 L165.40,373.64 L165.90,373.71 L166.40,373.78 L166.90,373.86 L167.40,373.93 L167.90,374.01 L168.40,374.08 L168.90,374.16 L169.40,374.23 L169.90,374.32 L170.40,374.42 L170.90,374.53 L171.40,374.66 L171.90,374.79 L172.40,374.94 L172.90,375.10 L173.40,375.26 L173.90,375.43 L174.40,375.61 L174.90,375.80 L175.40,376.00 L175.90,376.19 L176.40,376.40 L176.90,376.60 L177.40,376.81 L177.90,377.03 L178.40,377.24 L178.90,377.46 L179.40,377.67 L179.90,377.91 L180.40,378.38 L180.90,379.09 L181.40,379.98 L181.90,381.02 L182.40,382.15 L182.90,383.32 L183.40,384.49 L183.90,385.60 L184.40,386.61 L184.90,387.47 L185.40,388.12 L185.90,388.53 L186.40,388.64 L186.90,388.40 L187.40,387.92 L187.90,387.37 L188.40,386.74 L188.90,386.06 L189.40,385.34 L189.90,384.60 L190.40,383.84 L190.90,383.09 L191.40,382.35 L191.90,381.64 L192.40,380.99 L192.90,380.38 L193.40,379.79 L193.90,379.19 L194.40,378.57 L194.90,377.96 L195.40,377.35 L195.90,376.74 L196.40,376.15 L196.90,375.58 L197.40,375.03 L197.90,374.52 L198.40,374.03 L198.90,373.59 L199.40,373.20 L199.90,372.86 L200.40,372.59 L200.90,372.37 L201.40,372.20 L201.90,372.08 L202.40,371.99 L202.90,371.94 L203.40,371.91 L203.90,371.90 L204.40,371.90 L204.90,371.90 L205.40,371.91 L205.90,371.91 L206.40,371.91 L206.90,371.91 L207.40,371.92 L207.90,371.92 L208.40,371.92 L208.90,371.93 L209.40,371.93 L209.90,371.93 L210.40,371.94 L210.90,371.94 L211.40,371.94 L211.90,371.95 L212.40,371.95 L212.90,371.95 L213.40,371.96 L213.90,371.96 L214.40,371.97 L214.90,371.97 L215.40,371.97 L215.90,371.98 L216.40,371.98 L216.90,371.99 L217.40,371.99 L217.90,371.99 L218.40,372.00 L218.90,372.00 L219.40,372.01 L219.90,372.01 L220.40,372.02 L220.90,372.02 L221.40,372.02 L221.90,372.03 L222.40,372.03 L222.90,372.04 L223.40,372.04 L223.90,372.05 L224.40,372.05 L224.90,372.06 L225.40,372.06 L225.90,372.06 L226.40,372.07 L226.90,372.07 L227.40,372.08 L227.90,372.08 L228.40,372.09 L228.90,372.09 L229.40,372.09 L229.90,372.10 L230.40,372.10 L230.90,372.11 L231.40,372.11 L231.90,372.11 L232.40,372.12 L232.90,372.12 L233.40,372.13 L233.90,372.13 L234.40,372.13 L234.90,372.14 L235.40,372.14 L235.90,372.14 L236.40,372.15 L236.90,372.15 L237.40,372.15 L237.90,372.16 L238.40,372.16 L238.90,372.16 L239.40,372.17 L239.90,372.17 L240.40,372.17 L240.90,372.17 L241.40,372.18 L241.90,372.18 L242.40,372.18 L242.90,372.18 L243.40,372.19 L243.90,372.19 L244.40,372.19 L244.90,372.19 L245.40,372.19 L245.90,372.19 L246.40,372.20 L246.90,372.20 L247.40,372.20 L247.90,372.20 L248.40,372.20 L248.90,372.20 L249.40,372.20 L249.90,372.20 L250.40,372.20 L250.90,372.20 L251.40,372.20 L251.90,372.20 L252.40,372.20 L252.90,372.20 L253.40,372.20 L253.90,372.20 L254.40,372.20 L254.90,372.20 L255.40,372.20 L255.90,372.20 L256.40,372.20 L256.90,372.20 L257.40,372.20 L257.90,372.20 L258.40,372.21 L258.90,372.21 L259.40,372.21 L259.90,372.21 L260.40,372.21 L260.90,372.21 L261.40,372.21 L261.90,372.21 L262.40,372.21 L262.90,372.21 L263.40,372.21 L263.90,372.21 L264.40,372.21 L264.90,372.21 L265.40,372.21 L265.90,372.21 L266.40,372.21 L266.90,372.21 L267.40,372.21 L267.90,372.22 L268.40,372.22 L268.90,372.22 L269.40,372.22 L269.90,372.22 L270.40,372.22 L270.90,372.22 L271.40,372.22 L271.90,372.22 L272.40,372.22 L272.90,372.22 L273.40,372.22 L273.90,372.22 L274.40,372.22 L274.90,372.22 L275.40,372.22 L275.90,372.22 L276.40,372.22 L276.90,372.22 L277.40,372.22 L277.90,372.22 L278.40,372.22 L278.90,372.22 L279.40,372.22 L279.90,372.22 L280.40,372.22 L280.90,372.22 L281.40,372.22 L281.90,372.22 L282.40,372.22 L282.90,372.22 L283.40,372.22 L283.90,372.22 L284.40,372.22 L284.90,372.21 L285.40,372.21 L285.90,372.21 L286.40,372.21 L286.90,372.21 L287.40,372.21 L287.90,372.21 L288.40,372.21 L288.90,372.21 L289.40,372.20 L289.90,372.20 L290.40,372.20 L290.90,372.20" fill="none" stroke="#ff3a1c" stroke-width="1.8" stroke-linejoin="round"/>
<path d="M115.40,366.08 L115.90,366.48 L116.40,366.83 L116.90,367.12 L117.40,367.29 L117.90,367.33 L118.40,367.21 L118.90,366.92 L119.40,366.61 L119.90,366.30 L120.40,365.99 L120.90,365.67 L121.40,365.36 L121.90,365.05 L122.40,364.73 L122.90,364.42 L123.40,364.10 L123.90,363.78 L124.40,363.46 L124.90,363.14 L125.40,362.82 L125.90,362.50 L126.40,362.18 L126.90,361.85 L127.40,361.53 L127.90,361.20 L128.40,360.88 L128.90,360.55 L129.40,360.23 L129.90,359.90 L130.40,359.58 L130.90,359.26 L131.40,358.94 L131.90,358.62 L132.40,358.31 L132.90,357.99 L133.40,357.68 L133.90,357.38 L134.40,357.09 L134.90,356.83 L135.40,356.59 L135.90,356.37 L136.40,356.18 L136.90,356.00 L137.40,355.84 L137.90,355.69 L138.40,355.57 L138.90,355.45 L139.40,355.36 L139.90,355.27 L140.40,355.20 L140.90,355.14 L141.40,355.09 L141.90,355.04 L142.40,355.01 L142.90,354.98 L143.40,354.96 L143.90,354.95 L144.40,354.93 L144.90,354.93 L145.40,354.92 L145.90,354.91 L146.40,354.91 L146.90,354.90 L147.40,354.89 L147.90,354.89 L148.40,354.88 L148.90,354.88 L149.40,354.87 L149.90,354.87 L150.40,354.87 L150.90,354.87 L151.40,354.87 L151.90,354.87 L152.40,354.88 L152.90,354.88 L153.40,354.88 L153.90,354.89 L154.40,354.90 L154.90,354.90 L155.40,354.91 L155.90,354.92 L156.40,354.93 L156.90,354.94 L157.40,354.95 L157.90,354.96 L158.40,354.97 L158.90,354.98 L159.40,354.99 L159.90,355.00 L160.40,355.01 L160.90,355.03 L161.40,355.04 L161.90,355.06 L162.40,355.07 L162.90,355.08 L163.40,355.10 L163.90,355.11 L164.40,355.13 L164.90,355.15 L165.40,355.16 L165.90,355.18 L166.40,355.19 L166.90,355.21 L167.40,355.23 L167.90,355.25 L168.40,355.27 L168.90,355.29 L169.40,355.32 L169.90,355.35 L170.40,355.38 L170.90,355.41 L171.40,355.44 L171.90,355.47 L172.40,355.51 L172.90,355.55 L173.40,355.59 L173.90,355.63 L174.40,355.67 L174.90,355.72 L175.40,355.77 L175.90,355.81 L176.40,355.86 L176.90,355.92 L177.40,355.97 L177.90,356.03 L178.40,356.09 L178.90,356.15 L179.40,356.21 L179.90,356.27 L180.40,356.34 L180.90,356.40 L181.40,356.47 L181.90,356.54 L182.40,356.62 L182.90,356.76 L183.40,357.00 L183.90,357.31 L184.40,357.69 L184.90,358.12 L185.40,358.59 L185.90,359.09 L186.40,359.60 L186.90,360.11 L187.40,360.61 L187.90,361.14 L188.40,361.94 L188.90,362.94 L189.40,364.07 L189.90,365.26 L190.40,366.43 L190.90,367.50 L191.40,368.39 L191.90,369.03 L192.40,369.34 L192.90,369.25 L193.40,368.89 L193.90,368.37 L194.40,367.73 L194.90,367.00 L195.40,366.20 L195.90,365.36 L196.40,364.53 L196.90,363.72 L197.40,362.98 L197.90,362.33 L198.40,361.76 L198.90,361.16 L199.40,360.52 L199.90,359.87 L200.40,359.21 L200.90,358.58 L201.40,357.98 L201.90,357.44 L202.40,356.98 L202.90,356.60 L203.40,356.34 L203.90,356.21 L204.40,356.17 L204.90,356.14 L205.40,356.11 L205.90,356.08 L206.40,356.05 L206.90,356.03 L207.40,356.00 L207.90,355.97 L208.40,355.95 L208.90,355.92 L209.40,355.90 L209.90,355.87 L210.40,355.85 L210.90,355.83 L211.40,355.81 L211.90,355.78 L212.40,355.76 L212.90,355.74 L213.40,355.72 L213.90,355.71 L214.40,355.69 L214.90,355.67 L215.40,355.65 L215.90,355.64 L216.40,355.62 L216.90,355.61 L217.40,355.59 L217.90,355.58 L218.40,355.56 L218.90,355.55 L219.40,355.54 L219.90,355.52 L220.40,355.51 L220.90,355.50 L221.40,355.49 L221.90,355.48 L222.40,355.47 L222.90,355.46 L223.40,355.45 L223.90,355.44 L224.40,355.43 L224.90,355.43 L225.40,355.42 L225.90,355.41 L226.40,355.40 L226.90,355.40 L227.40,355.39 L227.90,355.39 L228.40,355.38 L228.90,355.37 L229.40,355.37 L229.90,355.36 L230.40,355.36 L230.90,355.36 L231.40,355.35 L231.90,355.35 L232.40,355.35 L232.90,355.34 L233.40,355.34 L233.90,355.34 L234.40,355.33 L234.90,355.33 L235.40,355.33 L235.90,355.33 L236.40,355.33 L236.90,355.32 L237.40,355.32 L237.90,355.32 L238.40,355.32 L238.90,355.32 L239.40,355.32 L239.90,355.32 L240.40,355.32 L240.90,355.31 L241.40,355.31 L241.90,355.31 L242.40,355.31 L242.90,355.31 L243.40,355.31 L243.90,355.31 L244.40,355.31 L244.90,355.31 L245.40,355.31 L245.90,355.31 L246.40,355.31 L246.90,355.31 L247.40,355.31 L247.90,355.30 L248.40,355.30 L248.90,355.30 L249.40,355.30 L249.90,355.30 L250.40,355.30 L250.90,355.30 L251.40,355.30 L251.90,355.29 L252.40,355.29 L252.90,355.29 L253.40,355.29 L253.90,355.29 L254.40,355.28 L254.90,355.28 L255.40,355.28 L255.90,355.28 L256.40,355.28 L256.90,355.27 L257.40,355.27 L257.90,355.27 L258.40,355.27 L258.90,355.26 L259.40,355.26 L259.90,355.26 L260.40,355.26 L260.90,355.25 L261.40,355.25 L261.90,355.25 L262.40,355.25 L262.90,355.24 L263.40,355.24 L263.90,355.24 L264.40,355.23 L264.90,355.23 L265.40,355.23 L265.90,355.23 L266.40,355.22 L266.90,355.22 L267.40,355.22 L267.90,355.22 L268.40,355.21 L268.90,355.21 L269.40,355.21 L269.90,355.21 L270.40,355.21 L270.90,355.20 L271.40,355.20 L271.90,355.20 L272.40,355.20 L272.90,355.19 L273.40,355.19 L273.90,355.19 L274.40,355.19 L274.90,355.19 L275.40,355.19 L275.90,355.18 L276.40,355.18 L276.90,355.18 L277.40,355.18 L277.90,355.18 L278.40,355.18 L278.90,355.18 L279.40,355.18 L279.90,355.18 L280.40,355.18 L280.90,355.17 L281.40,355.17 L281.90,355.17 L282.40,355.17 L282.90,355.17 L283.40,355.18 L283.90,355.18 L284.40,355.18 L284.90,355.18 L285.40,355.18 L285.90,355.18 L286.40,355.18 L286.90,355.18 L287.40,355.18 L287.90,355.18 L288.40,355.19 L288.90,355.19 L289.40,355.19 L289.90,355.19 L290.40,355.20 L290.90,355.20" fill="none" stroke="#ff6020" stroke-width="1.8" stroke-linejoin="round"/>
<path d="M115.40,346.50 L115.90,346.88 L116.40,347.49 L116.90,348.04 L117.40,348.52 L117.90,348.90 L118.40,349.16 L118.90,349.26 L119.40,349.18 L119.90,348.95 L120.40,348.68 L120.90,348.40 L121.40,348.11 L121.90,347.81 L122.40,347.51 L122.90,347.20 L123.40,346.88 L123.90,346.56 L124.40,346.25 L124.90,345.93 L125.40,345.61 L125.90,345.30 L126.40,345.00 L126.90,344.70 L127.40,344.41 L127.90,344.12 L128.40,343.85 L128.90,343.59 L129.40,343.32 L129.90,343.05 L130.40,342.77 L130.90,342.49 L131.40,342.21 L131.90,341.93 L132.40,341.65 L132.90,341.37 L133.40,341.09 L133.90,340.82 L134.40,340.54 L134.90,340.27 L135.40,340.00 L135.90,339.74 L136.40,339.48 L136.90,339.23 L137.40,338.98 L137.90,338.75 L138.40,338.52 L138.90,338.30 L139.40,338.09 L139.90,337.89 L140.40,337.71 L140.90,337.53 L141.40,337.37 L141.90,337.22 L142.40,337.07 L142.90,336.94 L143.40,336.82 L143.90,336.70 L144.40,336.60 L144.90,336.50 L145.40,336.41 L145.90,336.32 L146.40,336.25 L146.90,336.18 L147.40,336.12 L147.90,336.06 L148.40,336.01 L148.90,335.97 L149.40,335.93 L149.90,335.89 L150.40,335.86 L150.90,335.84 L151.40,335.82 L151.90,335.80 L152.40,335.79 L152.90,335.78 L153.40,335.77 L153.90,335.76 L154.40,335.76 L154.90,335.76 L155.40,335.76 L155.90,335.77 L156.40,335.77 L156.90,335.78 L157.40,335.78 L157.90,335.79 L158.40,335.79 L158.90,335.80 L159.40,335.80 L159.90,335.81 L160.40,335.81 L160.90,335.81 L161.40,335.81 L161.90,335.80 L162.40,335.80 L162.90,335.79 L163.40,335.79 L163.90,335.79 L164.40,335.79 L164.90,335.79 L165.40,335.80 L165.90,335.80 L166.40,335.81 L166.90,335.82 L167.40,335.83 L167.90,335.84 L168.40,335.85 L168.90,335.87 L169.40,335.88 L169.90,335.90 L170.40,335.92 L170.90,335.94 L171.40,335.96 L171.90,335.98 L172.40,336.01 L172.90,336.03 L173.40,336.06 L173.90,336.09 L174.40,336.11 L174.90,336.14 L175.40,336.17 L175.90,336.21 L176.40,336.24 L176.90,336.27 L177.40,336.31 L177.90,336.34 L178.40,336.38 L178.90,336.42 L179.40,336.45 L179.90,336.49 L180.40,336.53 L180.90,336.57 L181.40,336.61 L181.90,336.66 L182.40,336.70 L182.90,336.74 L183.40,336.78 L183.90,336.83 L184.40,336.87 L184.90,336.92 L185.40,337.01 L185.90,337.13 L186.40,337.30 L186.90,337.49 L187.40,337.71 L187.90,337.96 L188.40,338.23 L188.90,338.51 L189.40,338.80 L189.90,339.09 L190.40,339.39 L190.90,339.68 L191.40,340.01 L191.90,340.53 L192.40,341.23 L192.90,342.07 L193.40,343.01 L193.90,344.03 L194.40,345.10 L194.90,346.17 L195.40,347.21 L195.90,348.19 L196.40,349.08 L196.90,349.84 L197.40,350.44 L197.90,350.84 L198.40,351.01 L198.90,350.87 L199.40,350.43 L199.90,349.74 L200.40,348.84 L200.90,347.78 L201.40,346.61 L201.90,345.38 L202.40,344.14 L202.90,342.92 L203.40,341.79 L203.90,340.79 L204.40,339.96 L204.90,339.36 L205.40,339.03 L205.90,338.91 L206.40,338.80 L206.90,338.68 L207.40,338.57 L207.90,338.46 L208.40,338.34 L208.90,338.23 L209.40,338.12 L209.90,338.01 L210.40,337.90 L210.90,337.79 L211.40,337.69 L211.90,337.58 L212.40,337.48 L212.90,337.38 L213.40,337.29 L213.90,337.19 L214.40,337.10 L214.90,337.02 L215.40,336.93 L215.90,336.85 L216.40,336.77 L216.90,336.70 L217.40,336.63 L217.90,336.57 L218.40,336.51 L218.90,336.45 L219.40,336.40 L219.90,336.35 L220.40,336.31 L220.90,336.28 L221.40,336.25 L221.90,336.23 L222.40,336.21 L222.90,336.20 L223.40,336.20 L223.90,336.20 L224.40,336.21 L224.90,336.21 L225.40,336.22 L225.90,336.23 L226.40,336.24 L226.90,336.25 L227.40,336.26 L227.90,336.27 L228.40,336.27 L228.90,336.28 L229.40,336.29 L229.90,336.30 L230.40,336.31 L230.90,336.32 L231.40,336.33 L231.90,336.34 L232.40,336.35 L232.90,336.36 L233.40,336.37 L233.90,336.38 L234.40,336.39 L234.90,336.40 L235.40,336.41 L235.90,336.42 L236.40,336.43 L236.90,336.44 L237.40,336.45 L237.90,336.46 L238.40,336.48 L238.90,336.49 L239.40,336.50 L239.90,336.51 L240.40,336.52 L240.90,336.53 L241.40,336.54 L241.90,336.55 L242.40,336.56 L242.90,336.57 L243.40,336.58 L243.90,336.59 L244.40,336.60 L244.90,336.61 L245.40,336.62 L245.90,336.62 L246.40,336.63 L246.90,336.64 L247.40,336.65 L247.90,336.66 L248.40,336.67 L248.90,336.68 L249.40,336.69 L249.90,336.69 L250.40,336.70 L250.90,336.71 L251.40,336.72 L251.90,336.72 L252.40,336.73 L252.90,336.74 L253.40,336.74 L253.90,336.75 L254.40,336.76 L254.90,336.76 L255.40,336.77 L255.90,336.77 L256.40,336.78 L256.90,336.78 L257.40,336.78 L257.90,336.79 L258.40,336.79 L258.90,336.79 L259.40,336.80 L259.90,336.80 L260.40,336.80 L260.90,336.80 L261.40,336.81 L261.90,336.81 L262.40,336.81 L262.90,336.81 L263.40,336.82 L263.90,336.82 L264.40,336.82 L264.90,336.82 L265.40,336.83 L265.90,336.83 L266.40,336.83 L266.90,336.83 L267.40,336.84 L267.90,336.84 L268.40,336.84 L268.90,336.85 L269.40,336.85 L269.90,336.85 L270.40,336.85 L270.90,336.86 L271.40,336.86 L271.90,336.86 L272.40,336.86 L272.90,336.87 L273.40,336.87 L273.90,336.87 L274.40,336.87 L274.90,336.88 L275.40,336.88 L275.90,336.88 L276.40,336.88 L276.90,336.89 L277.40,336.89 L277.90,336.89 L278.40,336.89 L278.90,336.89 L279.40,336.90 L279.90,336.90 L280.40,336.90 L280.90,336.90 L281.40,336.90 L281.90,336.90 L282.40,336.90 L282.90,336.91 L283.40,336.91 L283.90,336.91 L284.40,336.91 L284.90,336.91 L285.40,336.91 L285.90,336.91 L286.40,336.91 L286.90,336.91 L287.40,336.91 L287.90,336.91 L288.40,336.91 L288.90,336.91 L289.40,336.90 L289.90,336.90 L290.40,336.90 L290.90,336.90" fill="none" stroke="#ff7f1e" stroke-width="1.8" stroke-linejoin="round"/>
<path d="M115.40,328.50 L115.90,328.81 L116.40,329.29 L116.90,329.74 L117.40,330.15 L117.90,330.50 L118.40,330.79 L118.90,331.02 L119.40,331.18 L119.90,331.25 L120.40,331.23 L120.90,331.12 L121.40,330.90 L121.90,330.64 L122.40,330.33 L122.90,329.99 L123.40,329.62 L123.90,329.23 L124.40,328.82 L124.90,328.39 L125.40,327.96 L125.90,327.53 L126.40,327.10 L126.90,326.67 L127.40,326.26 L127.90,325.87 L128.40,325.51 L128.90,325.17 L129.40,324.86 L129.90,324.59 L130.40,324.36 L130.90,324.13 L131.40,323.90 L131.90,323.66 L132.40,323.42 L132.90,323.18 L133.40,322.94 L133.90,322.70 L134.40,322.46 L134.90,322.23 L135.40,322.00 L135.90,321.77 L136.40,321.55 L136.90,321.34 L137.40,321.14 L137.90,320.94 L138.40,320.76 L138.90,320.58 L139.40,320.42 L139.90,320.27 L140.40,320.14 L140.90,320.01 L141.40,319.91 L141.90,319.82 L142.40,319.75 L142.90,319.70 L143.40,319.66 L143.90,319.62 L144.40,319.58 L144.90,319.55 L145.40,319.51 L145.90,319.48 L146.40,319.45 L146.90,319.41 L147.40,319.39 L147.90,319.36 L148.40,319.33 L148.90,319.31 L149.40,319.28 L149.90,319.26 L150.40,319.24 L150.90,319.21 L151.40,319.19 L151.90,319.17 L152.40,319.16 L152.90,319.14 L153.40,319.12 L153.90,319.11 L154.40,319.09 L154.90,319.07 L155.40,319.06 L155.90,319.05 L156.40,319.03 L156.90,319.02 L157.40,319.01 L157.90,319.00 L158.40,318.98 L158.90,318.97 L159.40,318.96 L159.90,318.95 L160.40,318.94 L160.90,318.93 L161.40,318.92 L161.90,318.91 L162.40,318.90 L162.90,318.89 L163.40,318.88 L163.90,318.87 L164.40,318.86 L164.90,318.85 L165.40,318.84 L165.90,318.83 L166.40,318.83 L166.90,318.82 L167.40,318.82 L167.90,318.81 L168.40,318.81 L168.90,318.80 L169.40,318.80 L169.90,318.80 L170.40,318.79 L170.90,318.79 L171.40,318.79 L171.90,318.79 L172.40,318.79 L172.90,318.79 L173.40,318.79 L173.90,318.79 L174.40,318.80 L174.90,318.80 L175.40,318.80 L175.90,318.81 L176.40,318.81 L176.90,318.82 L177.40,318.82 L177.90,318.83 L178.40,318.84 L178.90,318.84 L179.40,318.85 L179.90,318.86 L180.40,318.87 L180.90,318.88 L181.40,318.89 L181.90,318.90 L182.40,318.91 L182.90,318.92 L183.40,318.93 L183.90,318.95 L184.40,318.96 L184.90,318.98 L185.40,318.99 L185.90,319.01 L186.40,319.02 L186.90,319.04 L187.40,319.06 L187.90,319.07 L188.40,319.09 L188.90,319.11 L189.40,319.13 L189.90,319.15 L190.40,319.17 L190.90,319.19 L191.40,319.22 L191.90,319.30 L192.40,319.43 L192.90,319.61 L193.40,319.83 L193.90,320.08 L194.40,320.36 L194.90,320.67 L195.40,321.00 L195.90,321.35 L196.40,321.71 L196.90,322.08 L197.40,322.46 L197.90,322.83 L198.40,323.20 L198.90,323.56 L199.40,323.94 L199.90,324.49 L200.40,325.19 L200.90,325.99 L201.40,326.87 L201.90,327.79 L202.40,328.70 L202.90,329.58 L203.40,330.38 L203.90,331.07 L204.40,331.62 L204.90,331.99 L205.40,332.12 L205.90,331.96 L206.40,331.53 L206.90,330.88 L207.40,330.04 L207.90,329.08 L208.40,328.03 L208.90,326.94 L209.40,325.85 L209.90,324.82 L210.40,323.89 L210.90,323.10 L211.40,322.50 L211.90,322.14 L212.40,321.96 L212.90,321.79 L213.40,321.62 L213.90,321.45 L214.40,321.28 L214.90,321.11 L215.40,320.94 L215.90,320.78 L216.40,320.62 L216.90,320.46 L217.40,320.31 L217.90,320.17 L218.40,320.03 L218.90,319.90 L219.40,319.78 L219.90,319.67 L220.40,319.57 L220.90,319.48 L221.40,319.40 L221.90,319.33 L222.40,319.28 L222.90,319.24 L223.40,319.21 L223.90,319.20 L224.40,319.20 L224.90,319.20 L225.40,319.20 L225.90,319.20 L226.40,319.21 L226.90,319.21 L227.40,319.21 L227.90,319.21 L228.40,319.21 L228.90,319.21 L229.40,319.21 L229.90,319.22 L230.40,319.22 L230.90,319.22 L231.40,319.22 L231.90,319.22 L232.40,319.22 L232.90,319.23 L233.40,319.23 L233.90,319.23 L234.40,319.23 L234.90,319.23 L235.40,319.24 L235.90,319.24 L236.40,319.24 L236.90,319.24 L237.40,319.24 L237.90,319.24 L238.40,319.25 L238.90,319.25 L239.40,319.25 L239.90,319.25 L240.40,319.25 L240.90,319.26 L241.40,319.26 L241.90,319.26 L242.40,319.26 L242.90,319.26 L243.40,319.26 L243.90,319.27 L244.40,319.27 L244.90,319.27 L245.40,319.27 L245.90,319.27 L246.40,319.27 L246.90,319.28 L247.40,319.28 L247.90,319.28 L248.40,319.28 L248.90,319.28 L249.40,319.28 L249.90,319.29 L250.40,319.29 L250.90,319.29 L251.40,319.29 L251.90,319.29 L252.40,319.29 L252.90,319.29 L253.40,319.29 L253.90,319.29 L254.40,319.30 L254.90,319.30 L255.40,319.30 L255.90,319.30 L256.40,319.30 L256.90,319.30 L257.40,319.30 L257.90,319.30 L258.40,319.30 L258.90,319.30 L259.40,319.30 L259.90,319.30 L260.40,319.30 L260.90,319.30 L261.40,319.30 L261.90,319.30 L262.40,319.30 L262.90,319.30 L263.40,319.30 L263.90,319.30 L264.40,319.30 L264.90,319.30 L265.40,319.30 L265.90,319.30 L266.40,319.30 L266.90,319.30 L267.40,319.30 L267.90,319.30 L268.40,319.30 L268.90,319.30 L269.40,319.30 L269.90,319.30 L270.40,319.30 L270.90,319.30 L271.40,319.30 L271.90,319.30 L272.40,319.30 L272.90,319.30 L273.40,319.30 L273.90,319.30 L274.40,319.31 L274.90,319.31 L275.40,319.31 L275.90,319.31 L276.40,319.31 L276.90,319.31 L277.40,319.31 L277.90,319.31 L278.40,319.31 L278.90,319.31 L279.40,319.31 L279.90,319.31 L280.40,319.31 L280.90,319.31 L281.40,319.31 L281.90,319.31 L282.40,319.31 L282.90,319.31 L283.40,319.31 L283.90,319.31 L284.40,319.31 L284.90,319.31 L285.40,319.31 L285.90,319.30 L286.40,319.30 L286.90,319.30 L287.40,319.30 L287.90,319.30 L288.40,319.30 L288.90,319.30 L289.40,319.30 L289.90,319.30 L290.40,319.30 L290.90,319.30" fill="none" stroke="#ff9c18" stroke-width="1.8" stroke-linejoin="round"/>
<path d="M115.40,309.60 L115.90,309.88 L116.40,310.32 L116.90,310.74 L117.40,311.13 L117.90,311.49 L118.40,311.79 L118.90,312.05 L119.40,312.26 L119.90,312.40 L120.40,312.47 L120.90,312.48 L121.40,312.40 L121.90,312.24 L122.40,312.01 L122.90,311.74 L123.40,311.45 L123.90,311.12 L124.40,310.78 L124.90,310.42 L125.40,310.05 L125.90,309.68 L126.40,309.30 L126.90,308.92 L127.40,308.56 L127.90,308.20 L128.40,307.86 L128.90,307.55 L129.40,307.25 L129.90,306.99 L130.40,306.76 L130.90,306.53 L131.40,306.28 L131.90,306.04 L132.40,305.79 L132.90,305.54 L133.40,305.29 L133.90,305.05 L134.40,304.80 L134.90,304.56 L135.40,304.33 L135.90,304.10 L136.40,303.89 L136.90,303.68 L137.40,303.48 L137.90,303.30 L138.40,303.13 L138.90,302.98 L139.40,302.84 L139.90,302.72 L140.40,302.62 L140.90,302.55 L141.40,302.49 L141.90,302.44 L142.40,302.40 L142.90,302.36 L143.40,302.32 L143.90,302.28 L144.40,302.24 L144.90,302.20 L145.40,302.17 L145.90,302.14 L146.40,302.11 L146.90,302.08 L147.40,302.05 L147.90,302.02 L148.40,302.00 L148.90,301.97 L149.40,301.95 L149.90,301.93 L150.40,301.91 L150.90,301.89 L151.40,301.87 L151.90,301.85 L152.40,301.83 L152.90,301.82 L153.40,301.80 L153.90,301.79 L154.40,301.77 L154.90,301.76 L155.40,301.75 L155.90,301.73 L156.40,301.72 L156.90,301.71 L157.40,301.70 L157.90,301.69 L158.40,301.68 L158.90,301.67 L159.40,301.66 L159.90,301.65 L160.40,301.64 L160.90,301.63 L161.40,301.62 L161.90,301.61 L162.40,301.60 L162.90,301.59 L163.40,301.58 L163.90,301.57 L164.40,301.56 L164.90,301.55 L165.40,301.54 L165.90,301.53 L166.40,301.53 L166.90,301.52 L167.40,301.51 L167.90,301.51 L168.40,301.50 L168.90,301.49 L169.40,301.49 L169.90,301.48 L170.40,301.48 L170.90,301.47 L171.40,301.47 L171.90,301.47 L172.40,301.46 L172.90,301.46 L173.40,301.46 L173.90,301.46 L174.40,301.46 L174.90,301.45 L175.40,301.45 L175.90,301.45 L176.40,301.45 L176.90,301.45 L177.40,301.45 L177.90,301.45 L178.40,301.46 L178.90,301.46 L179.40,301.46 L179.90,301.46 L180.40,301.47 L180.90,301.47 L181.40,301.47 L181.90,301.48 L182.40,301.48 L182.90,301.49 L183.40,301.49 L183.90,301.50 L184.40,301.50 L184.90,301.51 L185.40,301.52 L185.90,301.52 L186.40,301.53 L186.90,301.54 L187.40,301.55 L187.90,301.55 L188.40,301.56 L188.90,301.57 L189.40,301.58 L189.90,301.59 L190.40,301.60 L190.90,301.61 L191.40,301.63 L191.90,301.64 L192.40,301.65 L192.90,301.66 L193.40,301.68 L193.90,301.69 L194.40,301.70 L194.90,301.74 L195.40,301.80 L195.90,301.89 L196.40,302.01 L196.90,302.15 L197.40,302.31 L197.90,302.48 L198.40,302.68 L198.90,302.89 L199.40,303.11 L199.90,303.34 L200.40,303.58 L200.90,303.82 L201.40,304.07 L201.90,304.32 L202.40,304.57 L202.90,304.82 L203.40,305.06 L203.90,305.30 L204.40,305.60 L204.90,306.04 L205.40,306.57 L205.90,307.19 L206.40,307.86 L206.90,308.57 L207.40,309.29 L207.90,310.01 L208.40,310.68 L208.90,311.31 L209.40,311.85 L209.90,312.29 L210.40,312.61 L210.90,312.78 L211.40,312.77 L211.90,312.52 L212.40,312.07 L212.90,311.44 L213.40,310.68 L213.90,309.85 L214.40,308.98 L214.90,308.12 L215.40,307.31 L215.90,306.60 L216.40,306.03 L216.90,305.63 L217.40,305.30 L217.90,304.96 L218.40,304.61 L218.90,304.26 L219.40,303.92 L219.90,303.59 L220.40,303.28 L220.90,302.98 L221.40,302.72 L221.90,302.49 L222.40,302.30 L222.90,302.15 L223.40,302.05 L223.90,302.00 L224.40,302.00 L224.90,301.99 L225.40,301.98 L225.90,301.98 L226.40,301.97 L226.90,301.97 L227.40,301.96 L227.90,301.96 L228.40,301.95 L228.90,301.94 L229.40,301.94 L229.90,301.93 L230.40,301.93 L230.90,301.92 L231.40,301.92 L231.90,301.91 L232.40,301.91 L232.90,301.90 L233.40,301.90 L233.90,301.89 L234.40,301.88 L234.90,301.88 L235.40,301.87 L235.90,301.87 L236.40,301.86 L236.90,301.86 L237.40,301.85 L237.90,301.85 L238.40,301.84 L238.90,301.84 L239.40,301.84 L239.90,301.83 L240.40,301.83 L240.90,301.82 L241.40,301.82 L241.90,301.81 L242.40,301.81 L242.90,301.80 L243.40,301.80 L243.90,301.80 L244.40,301.79 L244.90,301.79 L245.40,301.78 L245.90,301.78 L246.40,301.78 L246.90,301.77 L247.40,301.77 L247.90,301.76 L248.40,301.76 L248.90,301.76 L249.40,301.75 L249.90,301.75 L250.40,301.75 L250.90,301.74 L251.40,301.74 L251.90,301.74 L252.40,301.74 L252.90,301.73 L253.40,301.73 L253.90,301.73 L254.40,301.72 L254.90,301.72 L255.40,301.72 L255.90,301.72 L256.40,301.71 L256.90,301.71 L257.40,301.71 L257.90,301.71 L258.40,301.71 L258.90,301.70 L259.40,301.70 L259.90,301.70 L260.40,301.70 L260.90,301.70 L261.40,301.70 L261.90,301.69 L262.40,301.69 L262.90,301.69 L263.40,301.69 L263.90,301.69 L264.40,301.68 L264.90,301.68 L265.40,301.68 L265.90,301.68 L266.40,301.68 L266.90,301.67 L267.40,301.67 L267.90,301.67 L268.40,301.67 L268.90,301.67 L269.40,301.66 L269.90,301.66 L270.40,301.66 L270.90,301.66 L271.40,301.66 L271.90,301.65 L272.40,301.65 L272.90,301.65 L273.40,301.65 L273.90,301.65 L274.40,301.64 L274.90,301.64 L275.40,301.64 L275.90,301.64 L276.40,301.64 L276.90,301.63 L277.40,301.63 L277.90,301.63 L278.40,301.63 L278.90,301.63 L279.40,301.63 L279.90,301.62 L280.40,301.62 L280.90,301.62 L281.40,301.62 L281.90,301.62 L282.40,301.62 L282.90,301.61 L283.40,301.61 L283.90,301.61 L284.40,301.61 L284.90,301.61 L285.40,301.61 L285.90,301.61 L286.40,301.61 L286.90,301.61 L287.40,301.60 L287.90,301.60 L288.40,301.60 L288.90,301.60 L289.40,301.60 L289.90,301.60 L290.40,301.60 L290.90,301.60" fill="none" stroke="#ffbb1c" stroke-width="1.8" stroke-linejoin="round"/>
<text x="284.3" y="441.7" font-size="11" fill="#000" text-anchor="end" font-weight="normal" textLength="30.8" lengthAdjust="spacingAndGlyphs" >20 nm</text>
<text x="284.3" y="423.9" font-size="11" fill="#000" text-anchor="end" font-weight="normal" textLength="30.8" lengthAdjust="spacingAndGlyphs" >23 nm</text>
<text x="284.3" y="406.8" font-size="11" fill="#000" text-anchor="end" font-weight="normal" textLength="30.8" lengthAdjust="spacingAndGlyphs" >26 nm</text>
<text x="284.3" y="388.5" font-size="11" fill="#000" text-anchor="end" font-weight="normal" textLength="30.8" lengthAdjust="spacingAndGlyphs" >31 nm</text>
<text x="284.3" y="370.3" font-size="11" fill="#000" text-anchor="end" font-weight="normal" textLength="30.8" lengthAdjust="spacingAndGlyphs" >36 nm</text>
<text x="284.3" y="353.1" font-size="11" fill="#000" text-anchor="end" font-weight="normal" textLength="30.8" lengthAdjust="spacingAndGlyphs" >41 nm</text>
<text x="284.3" y="334.9" font-size="11" fill="#000" text-anchor="end" font-weight="normal" textLength="30.8" lengthAdjust="spacingAndGlyphs" >45 nm</text>
<text x="284.3" y="317.8" font-size="11" fill="#000" text-anchor="end" font-weight="normal" textLength="30.8" lengthAdjust="spacingAndGlyphs" >50 nm</text>
<text x="284.3" y="299.7" font-size="11" fill="#000" text-anchor="end" font-weight="normal" textLength="30.8" lengthAdjust="spacingAndGlyphs" >54 nm</text>
<path d="M115.40,459.85 L115.90,459.84 L116.40,459.84 L116.90,459.84 L117.40,459.84 L117.90,459.84 L118.40,459.84 L118.90,459.84 L119.40,459.84 L119.90,459.84 L120.40,459.84 L120.90,459.84 L121.40,459.84 L121.90,459.84 L122.40,459.84 L122.90,459.84 L123.40,459.84 L123.90,459.84 L124.40,459.84 L124.90,459.84 L125.40,459.83 L125.90,459.83 L126.40,459.83 L126.90,459.83 L127.40,459.83 L127.90,459.83 L128.40,459.82 L128.90,459.82 L129.40,459.82 L129.90,459.82 L130.40,459.81 L130.90,459.81 L131.40,459.81 L131.90,459.80 L132.40,459.80 L132.90,459.79 L133.40,459.79 L133.90,459.78 L134.40,459.78 L134.90,459.77 L135.40,459.76 L135.90,459.75 L136.40,459.75 L136.90,459.74 L137.40,459.72 L137.90,459.71 L138.40,459.70 L138.90,459.68 L139.40,459.67 L139.90,459.65 L140.40,459.63 L140.90,459.61 L141.40,459.59 L141.90,459.56 L142.40,459.53 L142.90,459.50 L143.40,459.47 L143.90,459.43 L144.40,459.39 L144.90,459.34 L145.40,459.29 L145.90,459.24 L146.40,459.18 L146.90,459.11 L147.40,459.04 L147.90,458.96 L148.40,458.87 L148.90,458.78 L149.40,458.67 L149.90,458.56 L150.40,458.43 L150.90,458.29 L151.40,458.13 L151.90,457.96 L152.40,457.78 L152.90,457.57 L153.40,457.35 L153.90,457.10 L154.40,456.83 L154.90,456.53 L155.40,456.20 L155.90,455.84 L156.40,455.44 L156.90,455.01 L157.40,454.53 L157.90,454.01 L158.40,453.43 L158.90,452.79 L159.40,452.10 L159.90,451.33 L160.40,450.49 L160.90,449.56 L161.40,448.55 L161.90,447.43 L162.40,446.21 L162.90,444.86 L163.40,443.39 L163.90,441.77 L164.40,439.99 L164.90,438.04 L165.40,435.90 L165.90,433.56 L166.40,430.99 L166.90,428.18 L167.40,425.11 L167.90,421.75 L168.40,418.09 L168.90,414.09 L169.40,409.75 L169.90,405.03 L170.40,399.92 L170.90,394.40 L171.40,388.46 L171.90,382.09 L172.40,375.31 L172.90,368.13 L173.40,360.58 L173.90,352.71 L174.40,344.61 L174.90,336.37 L175.40,328.12 L175.90,320.03 L176.40,312.27 L176.90,305.07 L177.40,298.64 L177.90,293.19 L178.40,288.95 L178.90,286.06 L179.40,284.67 L179.90,284.77 L180.40,286.09 L180.90,288.58 L181.40,292.15 L181.90,296.68 L182.40,302.04 L182.90,308.09 L183.40,314.65 L183.90,321.60 L184.40,328.78 L184.90,336.06 L185.40,343.35 L185.90,350.54 L186.40,357.57 L186.90,364.37 L187.40,370.90 L187.90,377.14 L188.40,383.05 L188.90,388.64 L189.40,393.90 L189.90,398.83 L190.40,403.43 L190.90,407.73 L191.40,411.73 L191.90,415.45 L192.40,418.90 L192.90,422.09 L193.40,425.05 L193.90,427.78 L194.40,430.31 L194.90,432.64 L195.40,434.79 L195.90,436.77 L196.40,438.61 L196.90,440.29 L197.40,441.85 L197.90,443.28 L198.40,444.60 L198.90,445.81 L199.40,446.93 L199.90,447.96 L200.40,449.13 L200.90,449.71 L201.40,450.81 L201.90,452.36 L202.40,452.90 L202.90,452.39 L203.40,452.44 L203.90,453.40 L204.40,453.98 L204.90,453.95 L205.40,454.64 L205.90,456.16 L206.40,456.95 L206.90,456.54 L207.40,456.34 L207.90,456.88 L208.40,456.96 L208.90,456.29 L209.40,456.30 L209.90,457.49 L210.40,458.41 L210.90,458.30 L211.40,458.30 L211.90,458.98 L212.40,459.11 L212.90,458.14 L213.40,457.51 L213.90,458.10 L214.40,458.76 L214.90,458.62 L215.40,458.71 L215.90,459.70 L216.40,460.30 L216.90,459.59 L217.40,458.76 L217.90,458.93 L218.40,459.18 L218.90,458.66 L219.40,458.43 L219.90,459.39 L220.40,460.40 L220.90,460.20 L221.40,459.65 L221.90,459.85 L222.40,460.02 L222.90,459.20 L223.40,458.40 L223.90,458.90 L224.40,459.86 L224.90,459.93 L225.40,459.70 L225.90,460.24 L226.40,460.79 L226.90,460.12 L227.40,459.02 L227.90,458.97 L228.40,459.53 L228.90,459.42 L229.40,459.12 L229.90,459.82 L230.40,460.86 L230.90,460.72 L231.40,459.82 L231.90,459.61 L232.40,459.89 L232.90,459.44 L233.40,458.69 L233.90,459.07 L234.40,460.22 L234.90,460.55 L235.40,460.08 L235.90,460.13 L236.40,460.58 L236.90,460.11 L237.40,458.97 L237.90,458.76 L238.40,459.57 L238.90,459.91 L239.40,459.62 L239.90,459.96 L240.40,460.86 L240.90,460.84 L241.40,459.75 L241.90,459.19 L242.40,459.56 L242.90,459.58 L243.40,459.02 L243.90,459.23 L244.40,460.38 L244.90,460.92 L245.40,460.29 L245.90,459.86 L246.40,460.15 L246.90,459.97 L247.40,458.99 L247.90,458.67 L248.40,459.59 L248.90,460.33 L249.40,460.10 L249.90,460.01 L250.40,460.64 L250.90,460.72 L251.40,459.66 L251.90,458.85 L252.40,459.25 L252.90,459.74 L253.40,459.47 L253.90,459.46 L254.40,460.43 L254.90,461.07 L255.40,460.40 L255.90,459.55 L256.40,459.64 L256.90,459.80 L257.40,459.16 L257.90,458.78 L258.40,459.65 L258.90,460.66 L259.40,460.52 L259.90,460.02 L260.40,460.26 L260.90,460.45 L261.40,459.59 L261.90,458.68 L262.40,459.05 L262.90,459.92 L263.40,459.98 L263.90,459.76 L264.40,460.36 L264.90,461.00 L265.40,460.40 L265.90,459.29 L266.40,459.17 L266.90,459.64 L267.40,459.45 L267.90,459.07 L268.40,459.74 L268.90,460.84 L269.40,460.81 L269.90,459.98 L270.40,459.80 L270.90,460.07 L271.40,459.57 L271.90,458.72 L272.40,458.99 L272.90,460.10 L273.40,460.47 L273.90,460.06 L274.40,460.19 L274.90,460.72 L275.40,460.30 L275.90,459.12 L276.40,458.82 L276.90,459.52 L277.40,459.81 L277.90,459.50 L278.40,459.85 L278.90,460.84 L279.40,460.93 L279.90,459.91 L280.40,459.34 L280.90,459.65 L281.40,459.61 L281.90,458.96 L282.40,459.08 L282.90,460.23 L283.40,460.85 L283.90,460.32 L284.40,459.95 L284.90,460.29 L285.40,460.12 L285.90,459.09 L286.40,458.65 L286.90,459.47 L287.40,460.19 L287.90,459.99 L288.40,459.95 L288.90,460.66 L289.40,460.85 L289.90,459.83 L290.40,458.98 L290.90,459.28" fill="none" stroke="#111" stroke-width="1.5" stroke-dasharray="6,3.5"/>
<ellipse cx="202.5" cy="451.3" rx="9.6" ry="8.8" fill="none" stroke="#111" stroke-width="1.4" stroke-dasharray="5,3"/>
<line x1="213" y1="450.5" x2="249" y2="450.5" stroke="#111" stroke-width="1.4" stroke-dasharray="5,3"/>
<polygon points="254.5,450.5 247.5,447.6 247.5,453.4" fill="#111"/>
<rect x="441.6" y="285.8" width="175.39999999999998" height="176.2" fill="none" stroke="#222" stroke-width="1.2"/>
<line x1="441.6" y1="444.4" x2="444.1" y2="444.4" stroke="#222" stroke-width="1"/>
<line x1="441.6" y1="426.8" x2="445.6" y2="426.8" stroke="#222" stroke-width="1"/>
<line x1="441.6" y1="409.1" x2="444.1" y2="409.1" stroke="#222" stroke-width="1"/>
<line x1="441.6" y1="391.5" x2="445.6" y2="391.5" stroke="#222" stroke-width="1"/>
<line x1="441.6" y1="373.9" x2="444.1" y2="373.9" stroke="#222" stroke-width="1"/>
<line x1="441.6" y1="356.3" x2="445.6" y2="356.3" stroke="#222" stroke-width="1"/>
<line x1="441.6" y1="338.7" x2="444.1" y2="338.7" stroke="#222" stroke-width="1"/>
<line x1="441.6" y1="321.0" x2="445.6" y2="321.0" stroke="#222" stroke-width="1"/>
<line x1="441.6" y1="303.4" x2="444.1" y2="303.4" stroke="#222" stroke-width="1"/>
<line x1="459.1" y1="462.0" x2="459.1" y2="459.5" stroke="#222" stroke-width="1"/>
<line x1="476.7" y1="462.0" x2="476.7" y2="458.0" stroke="#222" stroke-width="1"/>
<line x1="494.2" y1="462.0" x2="494.2" y2="459.5" stroke="#222" stroke-width="1"/>
<line x1="511.8" y1="462.0" x2="511.8" y2="458.0" stroke="#222" stroke-width="1"/>
<line x1="529.3" y1="462.0" x2="529.3" y2="459.5" stroke="#222" stroke-width="1"/>
<line x1="546.8" y1="462.0" x2="546.8" y2="458.0" stroke="#222" stroke-width="1"/>
<line x1="564.4" y1="462.0" x2="564.4" y2="459.5" stroke="#222" stroke-width="1"/>
<line x1="581.9" y1="462.0" x2="581.9" y2="458.0" stroke="#222" stroke-width="1"/>
<line x1="599.5" y1="462.0" x2="599.5" y2="459.5" stroke="#222" stroke-width="1"/>
<text x="436.5" y="465.6" font-size="13.5" fill="#000" text-anchor="end" font-weight="normal" textLength="14.2" lengthAdjust="spacingAndGlyphs" >10</text>
<text x="436.5" y="430.36" font-size="13.5" fill="#000" text-anchor="end" font-weight="normal" textLength="14.2" lengthAdjust="spacingAndGlyphs" >20</text>
<text x="436.5" y="395.12" font-size="13.5" fill="#000" text-anchor="end" font-weight="normal" textLength="14.2" lengthAdjust="spacingAndGlyphs" >30</text>
<text x="436.5" y="359.88" font-size="13.5" fill="#000" text-anchor="end" font-weight="normal" textLength="14.2" lengthAdjust="spacingAndGlyphs" >40</text>
<text x="436.5" y="324.64" font-size="13.5" fill="#000" text-anchor="end" font-weight="normal" textLength="14.2" lengthAdjust="spacingAndGlyphs" >50</text>
<text x="436.5" y="289.40000000000003" font-size="13.5" fill="#000" text-anchor="end" font-weight="normal" textLength="14.2" lengthAdjust="spacingAndGlyphs" >60</text>
<text x="441.6" y="476.6" font-size="13.5" fill="#000" text-anchor="middle" font-weight="normal" textLength="21.5" lengthAdjust="spacingAndGlyphs" >480</text>
<text x="476.7" y="476.6" font-size="13.5" fill="#000" text-anchor="middle" font-weight="normal" textLength="21.5" lengthAdjust="spacingAndGlyphs" >500</text>
<text x="511.8" y="476.6" font-size="13.5" fill="#000" text-anchor="middle" font-weight="normal" textLength="21.5" lengthAdjust="spacingAndGlyphs" >520</text>
<text x="546.8" y="476.6" font-size="13.5" fill="#000" text-anchor="middle" font-weight="normal" textLength="21.5" lengthAdjust="spacingAndGlyphs" >540</text>
<text x="581.9" y="476.6" font-size="13.5" fill="#000" text-anchor="middle" font-weight="normal" textLength="21.5" lengthAdjust="spacingAndGlyphs" >560</text>
<text x="617.0" y="476.6" font-size="13.5" fill="#000" text-anchor="middle" font-weight="normal" textLength="21.5" lengthAdjust="spacingAndGlyphs" >580</text>
<text transform="translate(410.5,476.6) rotate(-90)" font-size="17.5" fill="#000" textLength="204.5" lengthAdjust="spacingAndGlyphs">Perovskite thickness (nm)</text>
<text x="451.9" y="503.6" font-size="13" fill="#000" text-anchor="start" font-weight="normal" textLength="155.3" lengthAdjust="spacingAndGlyphs" >Tamm plasmon resonance</text>
<text x="462.7" y="521.8" font-size="13" fill="#000" text-anchor="start" font-weight="normal" textLength="133.1" lengthAdjust="spacingAndGlyphs" >wavelength at 8° (nm)</text>
<g>
<linearGradient id="glowL" x1="0" x2="0" y1="0" y2="1"><stop offset="0" stop-color="#ffffff" stop-opacity="0"/><stop offset="0.35" stop-color="#e4f8dc" stop-opacity="0.8"/><stop offset="1" stop-color="#b4eca4"/></linearGradient>
<radialGradient id="glowR" cx="0.5" cy="1" r="1" fx="0.5" fy="1"><stop offset="0" stop-color="#b8eca8"/><stop offset="0.45" stop-color="#d4f4ca"/><stop offset="0.8" stop-color="#eefaea"/><stop offset="1" stop-color="#ffffff"/></radialGradient>
<path d="M536,399 L536,362 Q574,344 612,362 L612,396 Z" fill="url(#glowR)" filter="url(#bl1)"/>
<polygon points="543.6,402.00 592.0,409.40 592.0,415.61 543.6,407.70" fill="#4b5638"/>
<polygon points="592.0,409.40 604.9,400.00 604.9,405.70 592.0,415.61" fill="#3c4630"/>
<polygon points="543.6,407.70 592.0,415.61 592.0,421.06 543.6,412.70" fill="#b9bb9e"/>
<polygon points="592.0,415.61 604.9,405.70 604.9,410.70 592.0,421.06" fill="#a2a589"/>
<polygon points="543.6,412.70 592.0,421.06 592.0,427.28 543.6,418.40" fill="#4b5638"/>
<polygon points="592.0,421.06 604.9,410.70 604.9,416.40 592.0,427.28" fill="#3c4630"/>
<polygon points="543.6,418.40 592.0,427.28 592.0,432.73 543.6,423.40" fill="#b9bb9e"/>
<polygon points="592.0,427.28 604.9,416.40 604.9,421.40 592.0,432.73" fill="#a2a589"/>
<polygon points="543.6,423.40 592.0,432.73 592.0,438.94 543.6,429.10" fill="#4b5638"/>
<polygon points="592.0,432.73 604.9,421.40 604.9,427.10 592.0,438.94" fill="#3c4630"/>
<polygon points="543.6,429.10 592.0,438.94 592.0,443.63 543.6,433.40" fill="#b9bb9e"/>
<polygon points="592.0,438.94 604.9,427.10 604.9,431.40 592.0,443.63" fill="#a2a589"/>
<polygon points="543.6,433.40 592.0,443.63 592.0,449.84 543.6,439.10" fill="#4b5638"/>
<polygon points="592.0,443.63 604.9,431.40 604.9,437.10 592.0,449.84" fill="#3c4630"/>
<polygon points="543.6,439.10 592.0,449.84 592.0,452.35 543.6,441.40" fill="#92ec86"/>
<polygon points="592.0,449.84 604.9,437.10 604.9,439.40 592.0,452.35" fill="#7ad86e"/>
<polygon points="543.6,441.40 592.0,452.35 592.0,454.96 543.6,443.80" fill="#a0a0a0"/>
<polygon points="592.0,452.35 604.9,439.40 604.9,441.80 592.0,454.96" fill="#8a8a8a"/>
<polyline points="543.6,407.70 592.0,415.61 604.9,405.70" fill="none" stroke="#2e3522" stroke-width="0.8"/>
<polyline points="543.6,418.40 592.0,427.28 604.9,416.40" fill="none" stroke="#2e3522" stroke-width="0.8"/>
<polyline points="543.6,429.10 592.0,438.94 604.9,427.10" fill="none" stroke="#2e3522" stroke-width="0.8"/>
<polygon points="538.1,397.8 563.5,390.7 609.2,393.6 597.7,405" fill="#88d4c4"/>
<ellipse cx="578" cy="398" rx="16" ry="4.5" fill="#d4f4dc" opacity="0.85" filter="url(#bl1)"/>
<polygon points="538.1,397.8 597.7,405 597.7,409.6 538.1,402.1" fill="#3dbfb2"/>
<polygon points="597.7,405 609.2,393.6 609.2,398.5 597.7,409.6" fill="#2ca99c"/>
<line x1="506" y1="440.4" x2="536" y2="440.4" stroke="#3aaa35" stroke-width="1.6"/>
<polygon points="542,440.4 534.8,437.1 534.8,443.7" fill="#3aaa35"/>
</g>
<polyline points="450.37,428.52 459.14,416.89 476.68,404.91 494.22,387.64 520.53,371.08 538.07,354.17 546.84,340.77 573.15,321.74 590.69,305.53" fill="none" stroke="#000" stroke-width="1.4" stroke-dasharray="5.5,3.5"/>
<polyline points="450.37,412.66 459.14,402.09 476.68,391.52 494.22,380.95 520.53,366.85 538.07,359.80 546.84,349.23 573.15,338.66 590.69,324.56" fill="none" stroke="#000" stroke-width="1.4"/>
<rect x="448.47" y="410.76" width="3.8" height="3.8" fill="#000"/>
<rect x="457.24" y="400.19" width="3.8" height="3.8" fill="#000"/>
<rect x="474.78" y="389.62" width="3.8" height="3.8" fill="#000"/>
<rect x="492.32" y="379.05" width="3.8" height="3.8" fill="#000"/>
<rect x="518.63" y="364.95" width="3.8" height="3.8" fill="#000"/>
<rect x="536.17" y="357.90" width="3.8" height="3.8" fill="#000"/>
<rect x="544.94" y="347.33" width="3.8" height="3.8" fill="#000"/>
<rect x="571.25" y="336.76" width="3.8" height="3.8" fill="#000"/>
<rect x="588.79" y="322.66" width="3.8" height="3.8" fill="#000"/>
<circle cx="450.37" cy="428.52" r="2.1" fill="#000"/>
<circle cx="459.14" cy="416.89" r="2.1" fill="#000"/>
<circle cx="476.68" cy="404.91" r="2.1" fill="#000"/>
<circle cx="494.22" cy="387.64" r="2.1" fill="#000"/>
<circle cx="520.53" cy="371.08" r="2.1" fill="#000"/>
<circle cx="538.07" cy="354.17" r="2.1" fill="#000"/>
<circle cx="546.84" cy="340.77" r="2.1" fill="#000"/>
<circle cx="573.15" cy="321.74" r="2.1" fill="#000"/>
<circle cx="590.69" cy="305.53" r="2.1" fill="#000"/>
<line x1="443.9" y1="293.7" x2="463.6" y2="293.7" stroke="#000" stroke-width="1.3"/>
<rect x="451.8" y="291.8" width="3.8" height="3.8" fill="#000"/>
<line x1="443" y1="322" x2="463.6" y2="322" stroke="#000" stroke-width="1.3" stroke-dasharray="4,2.5"/>
<circle cx="453.7" cy="322" r="2.1" fill="#000"/>
<text x="465.3" y="297.6" font-size="9.5" fill="#000" text-anchor="start" font-weight="normal" textLength="67.8" lengthAdjust="spacingAndGlyphs" >Measured under</text>
<text x="465" y="311.5" font-size="9.5" fill="#000" text-anchor="start" font-weight="normal" textLength="101" lengthAdjust="spacingAndGlyphs" >atomic force microscope</text>
<text x="465.3" y="326" font-size="9.5" fill="#000" text-anchor="start" font-weight="normal" textLength="96.8" lengthAdjust="spacingAndGlyphs" >Best fit from simulation</text>
<text x="-3.2" y="27" font-size="21" fill="#000" text-anchor="start" font-weight="bold" >a</text>
<text x="319.5" y="26.6" font-size="21.5" fill="#000" text-anchor="start" font-weight="bold" >b</text>
<text x="676" y="27" font-size="21.5" fill="#000" text-anchor="start" font-weight="bold" >c</text>
<text x="45.5" y="283.4" font-size="21.5" fill="#000" text-anchor="start" font-weight="bold" >d</text>
<text x="363.3" y="282.8" font-size="21.5" fill="#000" text-anchor="start" font-weight="bold" >e</text>
</svg></body></html>
